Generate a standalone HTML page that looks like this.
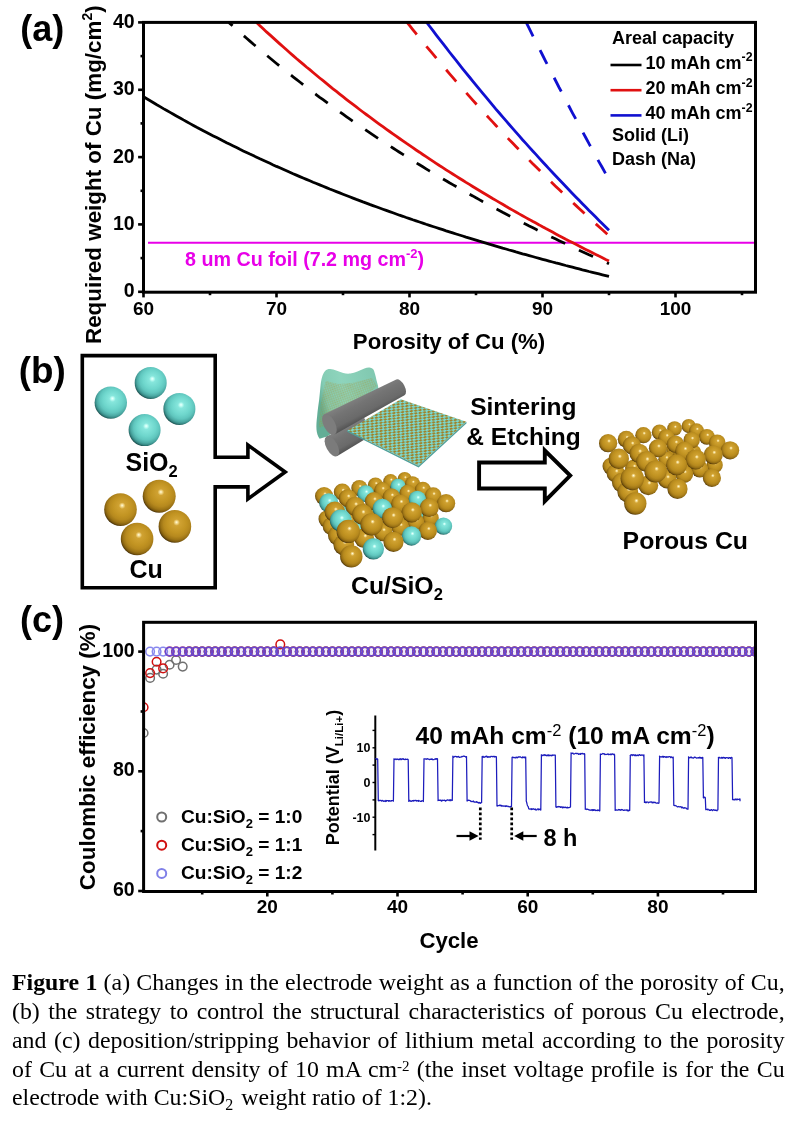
<!DOCTYPE html>
<html><head><meta charset="utf-8"><title>Figure 1</title>
<style>
html,body{margin:0;padding:0;background:#fff;}
body{width:794px;height:1123px;position:relative;overflow:hidden;}
.cap{position:absolute;left:12px;top:968.3px;width:772.6px;font-family:"Liberation Serif","Times New Roman",serif;font-size:23.85px;line-height:28.75px;color:#000;}
.cap .ln{text-align:justify;text-align-last:justify;white-space:nowrap;height:28.75px;}
.cap .ln.last{text-align:left;text-align-last:left;}
.cap sup,.cap sub{font-size:15px;line-height:0;}
.cap sup{vertical-align:6.5px;}
.cap sub{vertical-align:-4.5px;margin-right:2px;font-size:16px;}
</style></head><body>
<svg width="794" height="1123" viewBox="0 0 794 1123" style="position:absolute;left:0;top:0">
<g id="panelA">
<line x1="148" y1="242.7" x2="754" y2="242.7" stroke="#e800e8" stroke-width="2"/>
<path d="M143.5 96.7 L146.8 98.7 L150.2 100.7 L153.5 102.7 L156.8 104.7 L160.1 106.6 L163.4 108.6 L166.8 110.5 L170.1 112.4 L173.4 114.3 L176.8 116.2 L180.1 118.0 L183.4 119.9 L186.7 121.7 L190.1 123.6 L193.4 125.4 L196.7 127.2 L200.0 128.9 L203.3 130.7 L206.7 132.5 L210.0 134.2 L213.3 135.9 L216.7 137.6 L220.0 139.3 L223.3 141.0 L226.6 142.7 L229.9 144.3 L233.3 146.0 L236.6 147.6 L239.9 149.3 L243.2 150.9 L246.6 152.5 L249.9 154.1 L253.2 155.6 L256.6 157.2 L259.9 158.8 L263.2 160.3 L266.5 161.8 L269.9 163.3 L273.2 164.9 L276.5 166.4 L279.8 167.8 L283.1 169.3 L286.5 170.8 L289.8 172.2 L293.1 173.7 L296.4 175.1 L299.8 176.6 L303.1 178.0 L306.4 179.4 L309.8 180.8 L313.1 182.2 L316.4 183.5 L319.7 184.9 L323.1 186.3 L326.4 187.6 L329.7 189.0 L333.0 190.3 L336.4 191.6 L339.7 192.9 L343.0 194.2 L346.3 195.5 L349.6 196.8 L353.0 198.1 L356.3 199.4 L359.6 200.6 L362.9 201.9 L366.3 203.1 L369.6 204.4 L372.9 205.6 L376.2 206.8 L379.6 208.0 L382.9 209.2 L386.2 210.4 L389.6 211.6 L392.9 212.8 L396.2 214.0 L399.5 215.2 L402.9 216.3 L406.2 217.5 L409.5 218.6 L412.8 219.8 L416.1 220.9 L419.5 222.0 L422.8 223.1 L426.1 224.3 L429.4 225.4 L432.8 226.5 L436.1 227.5 L439.4 228.6 L442.8 229.7 L446.1 230.8 L449.4 231.8 L452.7 232.9 L456.1 234.0 L459.4 235.0 L462.7 236.0 L466.0 237.1 L469.4 238.1 L472.7 239.1 L476.0 240.1 L479.3 241.2 L482.6 242.2 L486.0 243.2 L489.3 244.2 L492.6 245.1 L495.9 246.1 L499.3 247.1 L502.6 248.1 L505.9 249.0 L509.2 250.0 L512.6 250.9 L515.9 251.9 L519.2 252.8 L522.5 253.8 L525.9 254.7 L529.2 255.6 L532.5 256.5 L535.9 257.5 L539.2 258.4 L542.5 259.3 L545.8 260.2 L549.1 261.1 L552.5 262.0 L555.8 262.9 L559.1 263.7 L562.5 264.6 L565.8 265.5 L569.1 266.3 L572.4 267.2 L575.8 268.1 L579.1 268.9 L582.4 269.8 L585.7 270.6 L589.0 271.5 L592.4 272.3 L595.7 273.1 L599.0 273.9 L602.4 274.8 L605.7 275.6 L609.0 276.4" fill="none" stroke="#000" stroke-width="2.8"/>
<path d="M228.8 22.4 L229.9 23.4 L233.3 26.4 L236.6 29.4 L239.9 32.4 L243.2 35.3 L246.6 38.2 L249.9 41.1 L253.2 44.0 L256.6 46.8 L259.9 49.6 L263.2 52.5 L266.5 55.2 L269.9 58.0 L273.2 60.8 L276.5 63.5 L279.8 66.2 L283.1 68.9 L286.5 71.6 L289.8 74.2 L293.1 76.8 L296.4 79.4 L299.8 82.0 L303.1 84.6 L306.4 87.2 L309.8 89.7 L313.1 92.3 L316.4 94.8 L319.7 97.3 L323.1 99.7 L326.4 102.2 L329.7 104.6 L333.0 107.0 L336.4 109.5 L339.7 111.8 L343.0 114.2 L346.3 116.6 L349.6 118.9 L353.0 121.3 L356.3 123.6 L359.6 125.9 L362.9 128.1 L366.3 130.4 L369.6 132.7 L372.9 134.9 L376.2 137.1 L379.6 139.3 L382.9 141.5 L386.2 143.7 L389.6 145.9 L392.9 148.0 L396.2 150.2 L399.5 152.3 L402.9 154.4 L406.2 156.5 L409.5 158.6 L412.8 160.7 L416.1 162.8 L419.5 164.8 L422.8 166.8 L426.1 168.9 L429.4 170.9 L432.8 172.9 L436.1 174.9 L439.4 176.8 L442.8 178.8 L446.1 180.7 L449.4 182.7 L452.7 184.6 L456.1 186.5 L459.4 188.4 L462.7 190.3 L466.0 192.2 L469.4 194.1 L472.7 195.9 L476.0 197.8 L479.3 199.6 L482.6 201.5 L486.0 203.3 L489.3 205.1 L492.6 206.9 L495.9 208.7 L499.3 210.4 L502.6 212.2 L505.9 213.9 L509.2 215.7 L512.6 217.4 L515.9 219.2 L519.2 220.9 L522.5 222.6 L525.9 224.3 L529.2 226.0 L532.5 227.6 L535.9 229.3 L539.2 231.0 L542.5 232.6 L545.8 234.2 L549.1 235.9 L552.5 237.5 L555.8 239.1 L559.1 240.7 L562.5 242.3 L565.8 243.9 L569.1 245.5 L572.4 247.0 L575.8 248.6 L579.1 250.2 L582.4 251.7 L585.7 253.2 L589.0 254.8 L592.4 256.3 L595.7 257.8 L599.0 259.3 L602.4 260.8 L605.7 262.3 L609.0 263.8" fill="none" stroke="#000" stroke-width="2.8" stroke-dasharray="15.5 15.2" stroke-dashoffset="10.5"/>
<path d="M256.3 22.4 L256.6 22.6 L259.9 25.7 L263.2 28.8 L266.5 31.9 L269.9 34.9 L273.2 37.9 L276.5 40.9 L279.8 43.9 L283.1 46.8 L286.5 49.8 L289.8 52.7 L293.1 55.6 L296.4 58.5 L299.8 61.3 L303.1 64.1 L306.4 67.0 L309.8 69.7 L313.1 72.5 L316.4 75.3 L319.7 78.0 L323.1 80.7 L326.4 83.4 L329.7 86.1 L333.0 88.8 L336.4 91.4 L339.7 94.1 L343.0 96.7 L346.3 99.3 L349.6 101.8 L353.0 104.4 L356.3 106.9 L359.6 109.5 L362.9 112.0 L366.3 114.5 L369.6 116.9 L372.9 119.4 L376.2 121.8 L379.6 124.3 L382.9 126.7 L386.2 129.1 L389.6 131.5 L392.9 133.8 L396.2 136.2 L399.5 138.5 L402.9 140.8 L406.2 143.2 L409.5 145.4 L412.8 147.7 L416.1 150.0 L419.5 152.2 L422.8 154.5 L426.1 156.7 L429.4 158.9 L432.8 161.1 L436.1 163.3 L439.4 165.5 L442.8 167.6 L446.1 169.8 L449.4 171.9 L452.7 174.0 L456.1 176.1 L459.4 178.2 L462.7 180.3 L466.0 182.4 L469.4 184.4 L472.7 186.5 L476.0 188.5 L479.3 190.5 L482.6 192.5 L486.0 194.5 L489.3 196.5 L492.6 198.5 L495.9 200.4 L499.3 202.4 L502.6 204.3 L505.9 206.3 L509.2 208.2 L512.6 210.1 L515.9 212.0 L519.2 213.9 L522.5 215.7 L525.9 217.6 L529.2 219.4 L532.5 221.3 L535.9 223.1 L539.2 224.9 L542.5 226.8 L545.8 228.6 L549.1 230.3 L552.5 232.1 L555.8 233.9 L559.1 235.7 L562.5 237.4 L565.8 239.2 L569.1 240.9 L572.4 242.6 L575.8 244.3 L579.1 246.0 L582.4 247.7 L585.7 249.4 L589.0 251.1 L592.4 252.8 L595.7 254.4 L599.0 256.1 L602.4 257.7 L605.7 259.4 L609.0 261.0" fill="none" stroke="#e01010" stroke-width="2.8"/>
<path d="M407.1 22.4 L409.5 25.4 L412.8 29.6 L416.1 33.7 L419.5 37.8 L422.8 41.9 L426.1 45.9 L429.4 49.9 L432.8 53.9 L436.1 57.9 L439.4 61.9 L442.8 65.8 L446.1 69.7 L449.4 73.6 L452.7 77.4 L456.1 81.3 L459.4 85.1 L462.7 88.9 L466.0 92.6 L469.4 96.4 L472.7 100.1 L476.0 103.8 L479.3 107.5 L482.6 111.1 L486.0 114.7 L489.3 118.4 L492.6 121.9 L495.9 125.5 L499.3 129.1 L502.6 132.6 L505.9 136.1 L509.2 139.6 L512.6 143.1 L515.9 146.5 L519.2 149.9 L522.5 153.3 L525.9 156.7 L529.2 160.1 L532.5 163.5 L535.9 166.8 L539.2 170.1 L542.5 173.4 L545.8 176.7 L549.1 180.0 L552.5 183.2 L555.8 186.4 L559.1 189.6 L562.5 192.8 L565.8 196.0 L569.1 199.1 L572.4 202.3 L575.8 205.4 L579.1 208.5 L582.4 211.6 L585.7 214.7 L589.0 217.7 L592.4 220.8 L595.7 223.8 L599.0 226.8 L602.4 229.8 L605.7 232.8 L609.0 235.7" fill="none" stroke="#e01010" stroke-width="2.8" stroke-dasharray="15.5 15.2" stroke-dashoffset="0"/>
<path d="M426.7 22.4 L429.4 26.0 L432.8 30.4 L436.1 34.8 L439.4 39.1 L442.8 43.4 L446.1 47.7 L449.4 52.0 L452.7 56.2 L456.1 60.4 L459.4 64.6 L462.7 68.8 L466.0 72.9 L469.4 77.0 L472.7 81.1 L476.0 85.2 L479.3 89.2 L482.6 93.2 L486.0 97.2 L489.3 101.2 L492.6 105.1 L495.9 109.1 L499.3 113.0 L502.6 116.9 L505.9 120.7 L509.2 124.5 L512.6 128.4 L515.9 132.1 L519.2 135.9 L522.5 139.7 L525.9 143.4 L529.2 147.1 L532.5 150.8 L535.9 154.4 L539.2 158.1 L542.5 161.7 L545.8 165.3 L549.1 168.9 L552.5 172.5 L555.8 176.0 L559.1 179.5 L562.5 183.0 L565.8 186.5 L569.1 190.0 L572.4 193.4 L575.8 196.9 L579.1 200.3 L582.4 203.7 L585.7 207.0 L589.0 210.4 L592.4 213.7 L595.7 217.1 L599.0 220.4 L602.4 223.7 L605.7 226.9 L609.0 230.2" fill="none" stroke="#1010d0" stroke-width="2.8"/>
<path d="M526.2 22.4 L529.2 28.4 L532.5 35.1 L535.9 41.8 L539.2 48.4 L542.5 55.0 L545.8 61.6 L549.1 68.1 L552.5 74.6 L555.8 81.0 L559.1 87.5 L562.5 93.8 L565.8 100.2 L569.1 106.5 L572.4 112.8 L575.8 119.0 L579.1 125.2 L582.4 131.4 L585.7 137.5 L589.0 143.7 L592.4 149.7 L595.7 155.8 L599.0 161.8 L602.4 167.8 L605.7 173.7 L609.0 179.6" fill="none" stroke="#1010d0" stroke-width="2.8" stroke-dasharray="15.5 15.5" stroke-dashoffset="0"/>
<rect x="143.5" y="22.4" width="612.0" height="269.8" fill="none" stroke="#000" stroke-width="3"/>
<line x1="138.1" y1="291.8" x2="143.5" y2="291.8" stroke="#000" stroke-width="2.6"/>
<text x="134.7" y="297.4" text-anchor="end" font-size="19.5" font-family="Liberation Sans, Arial, sans-serif" font-weight="bold">0</text>
<line x1="138.1" y1="224.4" x2="143.5" y2="224.4" stroke="#000" stroke-width="2.6"/>
<text x="134.7" y="230.0" text-anchor="end" font-size="19.5" font-family="Liberation Sans, Arial, sans-serif" font-weight="bold">10</text>
<line x1="138.1" y1="157.1" x2="143.5" y2="157.1" stroke="#000" stroke-width="2.6"/>
<text x="134.7" y="162.7" text-anchor="end" font-size="19.5" font-family="Liberation Sans, Arial, sans-serif" font-weight="bold">20</text>
<line x1="138.1" y1="89.8" x2="143.5" y2="89.8" stroke="#000" stroke-width="2.6"/>
<text x="134.7" y="95.3" text-anchor="end" font-size="19.5" font-family="Liberation Sans, Arial, sans-serif" font-weight="bold">30</text>
<line x1="138.1" y1="22.4" x2="143.5" y2="22.4" stroke="#000" stroke-width="2.6"/>
<text x="134.7" y="28.0" text-anchor="end" font-size="19.5" font-family="Liberation Sans, Arial, sans-serif" font-weight="bold">40</text>
<line x1="140.5" y1="258.1" x2="143.5" y2="258.1" stroke="#000" stroke-width="2.6"/>
<line x1="140.5" y1="190.8" x2="143.5" y2="190.8" stroke="#000" stroke-width="2.6"/>
<line x1="140.5" y1="123.4" x2="143.5" y2="123.4" stroke="#000" stroke-width="2.6"/>
<line x1="140.5" y1="56.1" x2="143.5" y2="56.1" stroke="#000" stroke-width="2.6"/>
<line x1="143.5" y1="292.2" x2="143.5" y2="297.4" stroke="#000" stroke-width="2.6"/>
<text x="143.5" y="315" text-anchor="middle" font-size="19" font-family="Liberation Sans, Arial, sans-serif" font-weight="bold">60</text>
<line x1="276.5" y1="292.2" x2="276.5" y2="297.4" stroke="#000" stroke-width="2.6"/>
<text x="276.5" y="315" text-anchor="middle" font-size="19" font-family="Liberation Sans, Arial, sans-serif" font-weight="bold">70</text>
<line x1="409.5" y1="292.2" x2="409.5" y2="297.4" stroke="#000" stroke-width="2.6"/>
<text x="409.5" y="315" text-anchor="middle" font-size="19" font-family="Liberation Sans, Arial, sans-serif" font-weight="bold">80</text>
<line x1="542.5" y1="292.2" x2="542.5" y2="297.4" stroke="#000" stroke-width="2.6"/>
<text x="542.5" y="315" text-anchor="middle" font-size="19" font-family="Liberation Sans, Arial, sans-serif" font-weight="bold">90</text>
<line x1="675.5" y1="292.2" x2="675.5" y2="297.4" stroke="#000" stroke-width="2.6"/>
<text x="675.5" y="315" text-anchor="middle" font-size="19" font-family="Liberation Sans, Arial, sans-serif" font-weight="bold">100</text>
<line x1="210.0" y1="292.2" x2="210.0" y2="295.2" stroke="#000" stroke-width="2.6"/>
<line x1="343.0" y1="292.2" x2="343.0" y2="295.2" stroke="#000" stroke-width="2.6"/>
<line x1="476.0" y1="292.2" x2="476.0" y2="295.2" stroke="#000" stroke-width="2.6"/>
<line x1="609.0" y1="292.2" x2="609.0" y2="295.2" stroke="#000" stroke-width="2.6"/>
<line x1="742.0" y1="292.2" x2="742.0" y2="295.2" stroke="#000" stroke-width="2.6"/>
<text x="449" y="349" text-anchor="middle" font-size="22.2" font-family="Liberation Sans, Arial, sans-serif" font-weight="bold">Porosity of Cu (%)</text>
<text transform="translate(100.5,174.7) rotate(-90)" text-anchor="middle" font-size="22.4" font-family="Liberation Sans, Arial, sans-serif" font-weight="bold">Required weight of Cu (mg/cm<tspan font-size="14" dy="-9">2</tspan><tspan dy="9">)</tspan></text>
<text x="185" y="265.5" font-size="19.7" fill="#e800e8" font-family="Liberation Sans, Arial, sans-serif" font-weight="bold">8 um Cu foil (7.2 mg cm<tspan font-size="13" dy="-8">-2</tspan><tspan dy="8">)</tspan></text>
<text x="612" y="44" font-size="18" font-family="Liberation Sans, Arial, sans-serif" font-weight="bold">Areal capacity</text>
<line x1="610.5" y1="65.0" x2="641.5" y2="65.0" stroke="#000" stroke-width="2.6"/>
<text x="645.5" y="68.6" font-size="18" font-family="Liberation Sans, Arial, sans-serif" font-weight="bold">10 mAh cm<tspan font-size="12.3" dy="-7.3">-2</tspan></text>
<line x1="610.5" y1="90.2" x2="641.5" y2="90.2" stroke="#e01010" stroke-width="2.6"/>
<text x="645.5" y="93.8" font-size="18" font-family="Liberation Sans, Arial, sans-serif" font-weight="bold">20 mAh cm<tspan font-size="12.3" dy="-7.3">-2</tspan></text>
<line x1="610.5" y1="115.4" x2="641.5" y2="115.4" stroke="#1010d0" stroke-width="2.6"/>
<text x="645.5" y="119.0" font-size="18" font-family="Liberation Sans, Arial, sans-serif" font-weight="bold">40 mAh cm<tspan font-size="12.3" dy="-7.3">-2</tspan></text>
<text x="612" y="141" font-size="18" font-family="Liberation Sans, Arial, sans-serif" font-weight="bold">Solid (Li)</text>
<text x="612" y="164.5" font-size="18" font-family="Liberation Sans, Arial, sans-serif" font-weight="bold">Dash (Na)</text>
<text x="20.3" y="41" font-size="36" font-family="Liberation Sans, Arial, sans-serif" font-weight="bold">(a)</text>
</g>
<defs>
<radialGradient id="gGold" cx="0.56" cy="0.43" r="0.59" fx="0.55" fy="0.37"><stop offset="0" stop-color="#fffbe4"/><stop offset="0.06" stop-color="#f6e09a"/><stop offset="0.17" stop-color="#d0a232"/><stop offset="0.5" stop-color="#c29422"/><stop offset="0.68" stop-color="#b6891e"/><stop offset="0.82" stop-color="#9e7516"/><stop offset="0.91" stop-color="#825e0f"/><stop offset="0.97" stop-color="#5c400a"/><stop offset="1" stop-color="#3e2a05"/></radialGradient>
<radialGradient id="gCyan" cx="0.56" cy="0.43" r="0.59" fx="0.55" fy="0.37"><stop offset="0" stop-color="#f0fffc"/><stop offset="0.06" stop-color="#c8fff6"/><stop offset="0.17" stop-color="#86e6dc"/><stop offset="0.5" stop-color="#6ed6cc"/><stop offset="0.68" stop-color="#60c6be"/><stop offset="0.82" stop-color="#4caaa4"/><stop offset="0.91" stop-color="#388a86"/><stop offset="0.97" stop-color="#226260"/><stop offset="1" stop-color="#164644"/></radialGradient>
<linearGradient id="gCyl" x1="0" y1="0" x2="0" y2="1"><stop offset="0" stop-color="#808080"/><stop offset="0.3" stop-color="#747474"/><stop offset="0.75" stop-color="#6a6a6a"/><stop offset="1" stop-color="#525252"/></linearGradient>
<linearGradient id="gLump" x1="0" y1="0.3" x2="1" y2="0"><stop offset="0" stop-color="#62ae96"/><stop offset="0.12" stop-color="#84ccb4"/><stop offset="0.4" stop-color="#8ed4bc"/><stop offset="1" stop-color="#7ec6ae"/></linearGradient><filter id="blr" x="-10%" y="-10%" width="120%" height="120%"><feGaussianBlur stdDeviation="0.7"/></filter>
<pattern id="chk" width="5.4" height="5.4" patternUnits="userSpaceOnUse" patternTransform="matrix(0.82 0.42 -0.80 0.60 0 0)"><rect width="5.4" height="5.4" fill="#7cd8ce"/><rect x="0.05" y="0.05" width="2.6" height="2.6" rx="0.7" fill="#a08026"/><rect x="2.75" y="2.75" width="2.6" height="2.6" rx="0.7" fill="#a08026"/></pattern>
<pattern id="chk2" width="2.4" height="2.4" patternUnits="userSpaceOnUse" patternTransform="rotate(-30)"><rect width="1.2" height="1.2" fill="#a8902e"/><rect x="1.2" y="1.2" width="1.2" height="1.2" fill="#a8902e"/></pattern>
</defs>
<g id="panelB">
<path d="M215.2 457.2 L215.2 355.6 L82.3 355.6 L82.3 587.8 L215.2 587.8 L215.2 486.9 L247.9 486.9 L247.9 499 L285.2 472 L247.9 445 L247.9 457.2 Z" fill="#fff" stroke="#000" stroke-width="3.6" stroke-miterlimit="10"/>
<circle cx="150.7" cy="382.9" r="16.0" fill="url(#gCyan)"/>
<circle cx="110.8" cy="402.6" r="16.2" fill="url(#gCyan)"/>
<circle cx="179.4" cy="408.9" r="16.0" fill="url(#gCyan)"/>
<circle cx="144.6" cy="430.1" r="16.0" fill="url(#gCyan)"/>
<circle cx="159.2" cy="496.2" r="16.5" fill="url(#gGold)"/>
<circle cx="120.5" cy="509.6" r="16.3" fill="url(#gGold)"/>
<circle cx="174.9" cy="526.4" r="16.3" fill="url(#gGold)"/>
<circle cx="137.1" cy="539.0" r="16.3" fill="url(#gGold)"/>
<text x="125.5" y="470.8" font-size="25" font-family="Liberation Sans, Arial, sans-serif" font-weight="bold">SiO<tspan font-size="16.5" dy="6">2</tspan></text>
<text x="129.5" y="577.7" font-size="25" font-family="Liberation Sans, Arial, sans-serif" font-weight="bold">Cu</text>
<text x="18.8" y="383" font-size="36.8" font-family="Liberation Sans, Arial, sans-serif" font-weight="bold">(b)</text>
<path d="M319.6 438.8 C317.8 436 316.7 433 316.5 429.5 C316.2 425 316.6 421 317.1 416.4 C317.6 411 318.4 405 319.1 400.3 C319.7 395 320.1 390 320.6 385.2 C321 382 321.4 379.5 322.1 377.1 C322.8 374.6 323.7 372.6 325.1 371.1 C326.6 369.6 328.3 369 330.2 369.1 C332.3 369.3 334.2 369.9 336.2 370.6 C338.6 371.5 340.8 372.5 343.2 373.1 C345.6 373.7 348 373.8 350.3 373.6 C352.8 373.3 355.1 372.5 357.4 371.6 C359.8 370.6 362 369.4 364.4 368.6 C366.1 368 367.7 367.5 369.4 367.6 C370.8 367.7 372 368.2 373 369.1 C374 370.5 374.5 372.3 375 374.1 C375.6 376.2 376 378.2 376.5 380.2 C377 382 377.5 383.9 378 385.7 L379 392 L340 428 L327 436.5 Z" fill="url(#gLump)"/>
<path d="M319 428 C319.5 410 322 392 326 381 L338 384 L352 383 L372 378 L377 386 L336 422 Z" fill="url(#chk2)" opacity="0.4" filter="url(#blr)"/>
<g transform="translate(331.9,446.3) rotate(-29)"><path d="M0 -11.2 L42 -9.5 L42 9.5 L0 11.2 Z" fill="url(#gCyl)"/><ellipse cx="0" cy="0" rx="5.6" ry="11.2" fill="#7b7b7b"/></g>
<path d="M347.4 430.6 L400.8 399.3 L466.3 421.8 L418.5 465.8 Z" fill="url(#chk)"/>
<path d="M347.4 430.6 L418.5 465.8 L466.3 421.8 L466.6 423.2 L418.6 467.4 L347.2 431.8 Z" fill="#4fa09a"/>
<g transform="translate(329.4,424.4) rotate(-27.5)"><path d="M0 -11.4 L80 -8.9 A4.4 8.9 0 0 1 80 8.9 L0 11.4 Z" fill="url(#gCyl)"/><ellipse cx="0" cy="0" rx="5.8" ry="11.4" fill="#7d7d7d"/></g>
<circle cx="402.2" cy="500.0" r="6.8" fill="url(#gCyan)"/>
<circle cx="389.2" cy="502.6" r="7.0" fill="url(#gGold)"/>
<circle cx="375.2" cy="506.6" r="7.4" fill="url(#gCyan)"/>
<circle cx="360.2" cy="510.0" r="7.7" fill="url(#gGold)"/>
<circle cx="344.2" cy="514.4" r="8.1" fill="url(#gCyan)"/>
<circle cx="327.2" cy="519.0" r="8.7" fill="url(#gGold)"/>
<circle cx="410.1" cy="504.9" r="7.1" fill="url(#gGold)"/>
<circle cx="396.6" cy="508.0" r="7.4" fill="url(#gGold)"/>
<circle cx="382.1" cy="512.2" r="7.8" fill="url(#gGold)"/>
<circle cx="366.5" cy="516.1" r="8.2" fill="url(#gGold)"/>
<circle cx="349.7" cy="521.0" r="8.6" fill="url(#gGold)"/>
<circle cx="331.8" cy="526.1" r="9.2" fill="url(#gGold)"/>
<circle cx="420.4" cy="511.5" r="7.6" fill="url(#gCyan)"/>
<circle cx="406.2" cy="515.1" r="7.9" fill="url(#gGold)"/>
<circle cx="391.2" cy="519.6" r="8.4" fill="url(#gCyan)"/>
<circle cx="374.8" cy="524.0" r="8.8" fill="url(#gGold)"/>
<circle cx="357.0" cy="529.6" r="9.2" fill="url(#gCyan)"/>
<circle cx="337.8" cy="535.5" r="9.8" fill="url(#gGold)"/>
<circle cx="430.7" cy="518.0" r="8.1" fill="url(#gGold)"/>
<circle cx="415.9" cy="522.1" r="8.4" fill="url(#gGold)"/>
<circle cx="400.2" cy="526.9" r="9.0" fill="url(#gGold)"/>
<circle cx="383.1" cy="532.0" r="9.3" fill="url(#gGold)"/>
<circle cx="364.3" cy="538.2" r="9.9" fill="url(#gGold)"/>
<circle cx="343.8" cy="544.8" r="10.4" fill="url(#gGold)"/>
<circle cx="443.5" cy="526.1" r="8.7" fill="url(#gCyan)"/>
<circle cx="427.9" cy="530.8" r="9.1" fill="url(#gGold)"/>
<circle cx="411.5" cy="536.0" r="9.7" fill="url(#gCyan)"/>
<circle cx="393.5" cy="541.8" r="10.1" fill="url(#gGold)"/>
<circle cx="373.4" cy="548.9" r="10.6" fill="url(#gCyan)"/>
<circle cx="351.3" cy="556.4" r="11.2" fill="url(#gGold)"/>
<circle cx="404.7" cy="479.0" r="7.1" fill="url(#gGold)"/>
<circle cx="390.6" cy="481.4" r="7.3" fill="url(#gGold)"/>
<circle cx="375.5" cy="485.1" r="7.7" fill="url(#gGold)"/>
<circle cx="359.4" cy="488.1" r="8.1" fill="url(#gGold)"/>
<circle cx="342.3" cy="492.1" r="8.5" fill="url(#gGold)"/>
<circle cx="324.1" cy="496.1" r="9.1" fill="url(#gGold)"/>
<circle cx="412.6" cy="483.6" r="7.4" fill="url(#gGold)"/>
<circle cx="398.0" cy="486.4" r="7.7" fill="url(#gCyan)"/>
<circle cx="382.4" cy="490.2" r="8.1" fill="url(#gGold)"/>
<circle cx="365.7" cy="493.7" r="8.5" fill="url(#gCyan)"/>
<circle cx="347.8" cy="498.2" r="9.0" fill="url(#gGold)"/>
<circle cx="328.7" cy="502.8" r="9.6" fill="url(#gCyan)"/>
<circle cx="422.9" cy="489.7" r="7.9" fill="url(#gGold)"/>
<circle cx="407.7" cy="493.0" r="8.2" fill="url(#gGold)"/>
<circle cx="391.5" cy="497.0" r="8.7" fill="url(#gGold)"/>
<circle cx="374.0" cy="501.1" r="9.1" fill="url(#gGold)"/>
<circle cx="355.1" cy="506.3" r="9.6" fill="url(#gGold)"/>
<circle cx="334.8" cy="511.7" r="10.2" fill="url(#gGold)"/>
<circle cx="433.2" cy="495.7" r="8.4" fill="url(#gGold)"/>
<circle cx="417.3" cy="499.5" r="8.8" fill="url(#gCyan)"/>
<circle cx="400.5" cy="503.8" r="9.3" fill="url(#gGold)"/>
<circle cx="382.3" cy="508.5" r="9.7" fill="url(#gCyan)"/>
<circle cx="362.4" cy="514.4" r="10.3" fill="url(#gGold)"/>
<circle cx="340.8" cy="520.5" r="10.9" fill="url(#gCyan)"/>
<circle cx="446.1" cy="503.2" r="9.1" fill="url(#gGold)"/>
<circle cx="429.3" cy="507.6" r="9.5" fill="url(#gGold)"/>
<circle cx="411.8" cy="512.3" r="10.1" fill="url(#gGold)"/>
<circle cx="392.6" cy="517.7" r="10.5" fill="url(#gGold)"/>
<circle cx="371.5" cy="524.4" r="11.1" fill="url(#gGold)"/>
<circle cx="348.3" cy="531.4" r="11.7" fill="url(#gGold)"/>
<text x="351" y="593.8" font-size="24.8" font-family="Liberation Sans, Arial, sans-serif" font-weight="bold">Cu/SiO<tspan font-size="16.5" dy="6">2</tspan></text>
<text x="523.3" y="414.7" text-anchor="middle" font-size="24.5" font-family="Liberation Sans, Arial, sans-serif" font-weight="bold">Sintering</text>
<text x="523.5" y="444.7" text-anchor="middle" font-size="24.5" font-family="Liberation Sans, Arial, sans-serif" font-weight="bold">&amp; Etching</text>
<path d="M479.1 462.5 L544.8 462.5 L544.8 450.5 L570.2 475.6 L544.8 501.2 L544.8 488.5 L479.1 488.5 Z" fill="#fff" stroke="#000" stroke-width="3.9" stroke-miterlimit="10"/>
<circle cx="673.2" cy="449.7" r="7.0" fill="url(#gGold)"/>
<circle cx="644.2" cy="457.1" r="7.7" fill="url(#gGold)"/>
<circle cx="611.2" cy="466.1" r="8.7" fill="url(#gGold)"/>
<circle cx="694.1" cy="452.0" r="7.1" fill="url(#gGold)"/>
<circle cx="680.6" cy="455.1" r="7.4" fill="url(#gGold)"/>
<circle cx="666.1" cy="459.3" r="7.8" fill="url(#gGold)"/>
<circle cx="650.5" cy="463.2" r="8.2" fill="url(#gGold)"/>
<circle cx="633.7" cy="468.1" r="8.6" fill="url(#gGold)"/>
<circle cx="615.8" cy="473.2" r="9.2" fill="url(#gGold)"/>
<circle cx="690.2" cy="462.2" r="7.9" fill="url(#gGold)"/>
<circle cx="658.8" cy="471.1" r="8.8" fill="url(#gGold)"/>
<circle cx="621.8" cy="482.6" r="9.8" fill="url(#gGold)"/>
<circle cx="714.7" cy="465.1" r="8.1" fill="url(#gGold)"/>
<circle cx="699.9" cy="469.2" r="8.4" fill="url(#gGold)"/>
<circle cx="684.2" cy="474.0" r="9.0" fill="url(#gGold)"/>
<circle cx="667.1" cy="479.1" r="9.3" fill="url(#gGold)"/>
<circle cx="648.3" cy="485.3" r="9.9" fill="url(#gGold)"/>
<circle cx="627.8" cy="491.9" r="10.4" fill="url(#gGold)"/>
<circle cx="711.9" cy="477.9" r="9.1" fill="url(#gGold)"/>
<circle cx="677.5" cy="488.9" r="10.1" fill="url(#gGold)"/>
<circle cx="635.3" cy="503.5" r="11.2" fill="url(#gGold)"/>
<circle cx="688.7" cy="426.1" r="7.1" fill="url(#gGold)"/>
<circle cx="674.6" cy="428.5" r="7.3" fill="url(#gGold)"/>
<circle cx="659.5" cy="432.2" r="7.7" fill="url(#gGold)"/>
<circle cx="643.4" cy="435.2" r="8.1" fill="url(#gGold)"/>
<circle cx="626.3" cy="439.2" r="8.5" fill="url(#gGold)"/>
<circle cx="608.1" cy="443.2" r="9.1" fill="url(#gGold)"/>
<circle cx="696.6" cy="430.7" r="7.4" fill="url(#gGold)"/>
<circle cx="666.4" cy="437.3" r="8.1" fill="url(#gGold)"/>
<circle cx="631.8" cy="445.3" r="9.0" fill="url(#gGold)"/>
<circle cx="706.9" cy="436.8" r="7.9" fill="url(#gGold)"/>
<circle cx="691.7" cy="440.1" r="8.2" fill="url(#gGold)"/>
<circle cx="675.5" cy="444.1" r="8.7" fill="url(#gGold)"/>
<circle cx="658.0" cy="448.2" r="9.1" fill="url(#gGold)"/>
<circle cx="639.1" cy="453.4" r="9.6" fill="url(#gGold)"/>
<circle cx="618.8" cy="458.8" r="10.2" fill="url(#gGold)"/>
<circle cx="717.2" cy="442.8" r="8.4" fill="url(#gGold)"/>
<circle cx="684.5" cy="450.9" r="9.3" fill="url(#gGold)"/>
<circle cx="646.4" cy="461.5" r="10.3" fill="url(#gGold)"/>
<circle cx="730.1" cy="450.3" r="9.1" fill="url(#gGold)"/>
<circle cx="713.3" cy="454.7" r="9.5" fill="url(#gGold)"/>
<circle cx="695.8" cy="459.4" r="10.1" fill="url(#gGold)"/>
<circle cx="676.6" cy="464.8" r="10.5" fill="url(#gGold)"/>
<circle cx="655.5" cy="471.5" r="11.1" fill="url(#gGold)"/>
<circle cx="632.3" cy="478.5" r="11.7" fill="url(#gGold)"/>
<text x="622.6" y="549.2" font-size="24.8" font-family="Liberation Sans, Arial, sans-serif" font-weight="bold">Porous Cu</text>
</g>
<g id="panelC">
<clipPath id="clipC"><rect x="143.6" y="622.3" width="611.9" height="269.2"/></clipPath>
<g clip-path="url(#clipC)">
<circle cx="189.2" cy="651.6" r="4.3" fill="#707070" fill-opacity="0" stroke="#707070" stroke-width="1.5"/>
<circle cx="195.7" cy="651.6" r="4.3" fill="#707070" fill-opacity="0" stroke="#707070" stroke-width="1.5"/>
<circle cx="202.2" cy="651.6" r="4.3" fill="#707070" fill-opacity="0" stroke="#707070" stroke-width="1.5"/>
<circle cx="208.7" cy="651.6" r="4.3" fill="#707070" fill-opacity="0" stroke="#707070" stroke-width="1.5"/>
<circle cx="215.2" cy="651.6" r="4.3" fill="#707070" fill-opacity="0" stroke="#707070" stroke-width="1.5"/>
<circle cx="221.7" cy="651.6" r="4.3" fill="#707070" fill-opacity="0" stroke="#707070" stroke-width="1.5"/>
<circle cx="228.2" cy="651.6" r="4.3" fill="#707070" fill-opacity="0" stroke="#707070" stroke-width="1.5"/>
<circle cx="234.7" cy="651.6" r="4.3" fill="#707070" fill-opacity="0" stroke="#707070" stroke-width="1.5"/>
<circle cx="241.2" cy="651.6" r="4.3" fill="#707070" fill-opacity="0" stroke="#707070" stroke-width="1.5"/>
<circle cx="247.8" cy="651.6" r="4.3" fill="#707070" fill-opacity="0" stroke="#707070" stroke-width="1.5"/>
<circle cx="254.3" cy="651.6" r="4.3" fill="#707070" fill-opacity="0" stroke="#707070" stroke-width="1.5"/>
<circle cx="260.8" cy="651.6" r="4.3" fill="#707070" fill-opacity="0" stroke="#707070" stroke-width="1.5"/>
<circle cx="267.3" cy="651.6" r="4.3" fill="#707070" fill-opacity="0" stroke="#707070" stroke-width="1.5"/>
<circle cx="273.8" cy="651.6" r="4.3" fill="#707070" fill-opacity="0" stroke="#707070" stroke-width="1.5"/>
<circle cx="280.3" cy="651.6" r="4.3" fill="#707070" fill-opacity="0" stroke="#707070" stroke-width="1.5"/>
<circle cx="286.8" cy="651.6" r="4.3" fill="#707070" fill-opacity="0" stroke="#707070" stroke-width="1.5"/>
<circle cx="293.3" cy="651.6" r="4.3" fill="#707070" fill-opacity="0" stroke="#707070" stroke-width="1.5"/>
<circle cx="299.8" cy="651.6" r="4.3" fill="#707070" fill-opacity="0" stroke="#707070" stroke-width="1.5"/>
<circle cx="306.3" cy="651.6" r="4.3" fill="#707070" fill-opacity="0" stroke="#707070" stroke-width="1.5"/>
<circle cx="312.8" cy="651.6" r="4.3" fill="#707070" fill-opacity="0" stroke="#707070" stroke-width="1.5"/>
<circle cx="319.4" cy="651.6" r="4.3" fill="#707070" fill-opacity="0" stroke="#707070" stroke-width="1.5"/>
<circle cx="325.9" cy="651.6" r="4.3" fill="#707070" fill-opacity="0" stroke="#707070" stroke-width="1.5"/>
<circle cx="332.4" cy="651.6" r="4.3" fill="#707070" fill-opacity="0" stroke="#707070" stroke-width="1.5"/>
<circle cx="338.9" cy="651.6" r="4.3" fill="#707070" fill-opacity="0" stroke="#707070" stroke-width="1.5"/>
<circle cx="345.4" cy="651.6" r="4.3" fill="#707070" fill-opacity="0" stroke="#707070" stroke-width="1.5"/>
<circle cx="351.9" cy="651.6" r="4.3" fill="#707070" fill-opacity="0" stroke="#707070" stroke-width="1.5"/>
<circle cx="358.4" cy="651.6" r="4.3" fill="#707070" fill-opacity="0" stroke="#707070" stroke-width="1.5"/>
<circle cx="364.9" cy="651.6" r="4.3" fill="#707070" fill-opacity="0" stroke="#707070" stroke-width="1.5"/>
<circle cx="371.4" cy="651.6" r="4.3" fill="#707070" fill-opacity="0" stroke="#707070" stroke-width="1.5"/>
<circle cx="377.9" cy="651.6" r="4.3" fill="#707070" fill-opacity="0" stroke="#707070" stroke-width="1.5"/>
<circle cx="384.5" cy="651.6" r="4.3" fill="#707070" fill-opacity="0" stroke="#707070" stroke-width="1.5"/>
<circle cx="391.0" cy="651.6" r="4.3" fill="#707070" fill-opacity="0" stroke="#707070" stroke-width="1.5"/>
<circle cx="397.5" cy="651.6" r="4.3" fill="#707070" fill-opacity="0" stroke="#707070" stroke-width="1.5"/>
<circle cx="404.0" cy="651.6" r="4.3" fill="#707070" fill-opacity="0" stroke="#707070" stroke-width="1.5"/>
<circle cx="410.5" cy="651.6" r="4.3" fill="#707070" fill-opacity="0" stroke="#707070" stroke-width="1.5"/>
<circle cx="417.0" cy="651.6" r="4.3" fill="#707070" fill-opacity="0" stroke="#707070" stroke-width="1.5"/>
<circle cx="423.5" cy="651.6" r="4.3" fill="#707070" fill-opacity="0" stroke="#707070" stroke-width="1.5"/>
<circle cx="430.0" cy="651.6" r="4.3" fill="#707070" fill-opacity="0" stroke="#707070" stroke-width="1.5"/>
<circle cx="436.5" cy="651.6" r="4.3" fill="#707070" fill-opacity="0" stroke="#707070" stroke-width="1.5"/>
<circle cx="443.0" cy="651.6" r="4.3" fill="#707070" fill-opacity="0" stroke="#707070" stroke-width="1.5"/>
<circle cx="449.5" cy="651.6" r="4.3" fill="#707070" fill-opacity="0" stroke="#707070" stroke-width="1.5"/>
<circle cx="456.1" cy="651.6" r="4.3" fill="#707070" fill-opacity="0" stroke="#707070" stroke-width="1.5"/>
<circle cx="462.6" cy="651.6" r="4.3" fill="#707070" fill-opacity="0" stroke="#707070" stroke-width="1.5"/>
<circle cx="469.1" cy="651.6" r="4.3" fill="#707070" fill-opacity="0" stroke="#707070" stroke-width="1.5"/>
<circle cx="475.6" cy="651.6" r="4.3" fill="#707070" fill-opacity="0" stroke="#707070" stroke-width="1.5"/>
<circle cx="482.1" cy="651.6" r="4.3" fill="#707070" fill-opacity="0" stroke="#707070" stroke-width="1.5"/>
<circle cx="488.6" cy="651.6" r="4.3" fill="#707070" fill-opacity="0" stroke="#707070" stroke-width="1.5"/>
<circle cx="495.1" cy="651.6" r="4.3" fill="#707070" fill-opacity="0" stroke="#707070" stroke-width="1.5"/>
<circle cx="501.6" cy="651.6" r="4.3" fill="#707070" fill-opacity="0" stroke="#707070" stroke-width="1.5"/>
<circle cx="508.1" cy="651.6" r="4.3" fill="#707070" fill-opacity="0" stroke="#707070" stroke-width="1.5"/>
<circle cx="514.6" cy="651.6" r="4.3" fill="#707070" fill-opacity="0" stroke="#707070" stroke-width="1.5"/>
<circle cx="521.2" cy="651.6" r="4.3" fill="#707070" fill-opacity="0" stroke="#707070" stroke-width="1.5"/>
<circle cx="527.7" cy="651.6" r="4.3" fill="#707070" fill-opacity="0" stroke="#707070" stroke-width="1.5"/>
<circle cx="534.2" cy="651.6" r="4.3" fill="#707070" fill-opacity="0" stroke="#707070" stroke-width="1.5"/>
<circle cx="540.7" cy="651.6" r="4.3" fill="#707070" fill-opacity="0" stroke="#707070" stroke-width="1.5"/>
<circle cx="547.2" cy="651.6" r="4.3" fill="#707070" fill-opacity="0" stroke="#707070" stroke-width="1.5"/>
<circle cx="553.7" cy="651.6" r="4.3" fill="#707070" fill-opacity="0" stroke="#707070" stroke-width="1.5"/>
<circle cx="560.2" cy="651.6" r="4.3" fill="#707070" fill-opacity="0" stroke="#707070" stroke-width="1.5"/>
<circle cx="566.7" cy="651.6" r="4.3" fill="#707070" fill-opacity="0" stroke="#707070" stroke-width="1.5"/>
<circle cx="573.2" cy="651.6" r="4.3" fill="#707070" fill-opacity="0" stroke="#707070" stroke-width="1.5"/>
<circle cx="579.7" cy="651.6" r="4.3" fill="#707070" fill-opacity="0" stroke="#707070" stroke-width="1.5"/>
<circle cx="586.3" cy="651.6" r="4.3" fill="#707070" fill-opacity="0" stroke="#707070" stroke-width="1.5"/>
<circle cx="592.8" cy="651.6" r="4.3" fill="#707070" fill-opacity="0" stroke="#707070" stroke-width="1.5"/>
<circle cx="599.3" cy="651.6" r="4.3" fill="#707070" fill-opacity="0" stroke="#707070" stroke-width="1.5"/>
<circle cx="605.8" cy="651.6" r="4.3" fill="#707070" fill-opacity="0" stroke="#707070" stroke-width="1.5"/>
<circle cx="612.3" cy="651.6" r="4.3" fill="#707070" fill-opacity="0" stroke="#707070" stroke-width="1.5"/>
<circle cx="618.8" cy="651.6" r="4.3" fill="#707070" fill-opacity="0" stroke="#707070" stroke-width="1.5"/>
<circle cx="625.3" cy="651.6" r="4.3" fill="#707070" fill-opacity="0" stroke="#707070" stroke-width="1.5"/>
<circle cx="631.8" cy="651.6" r="4.3" fill="#707070" fill-opacity="0" stroke="#707070" stroke-width="1.5"/>
<circle cx="638.3" cy="651.6" r="4.3" fill="#707070" fill-opacity="0" stroke="#707070" stroke-width="1.5"/>
<circle cx="644.8" cy="651.6" r="4.3" fill="#707070" fill-opacity="0" stroke="#707070" stroke-width="1.5"/>
<circle cx="651.3" cy="651.6" r="4.3" fill="#707070" fill-opacity="0" stroke="#707070" stroke-width="1.5"/>
<circle cx="657.9" cy="651.6" r="4.3" fill="#707070" fill-opacity="0" stroke="#707070" stroke-width="1.5"/>
<circle cx="664.4" cy="651.6" r="4.3" fill="#707070" fill-opacity="0" stroke="#707070" stroke-width="1.5"/>
<circle cx="670.9" cy="651.6" r="4.3" fill="#707070" fill-opacity="0" stroke="#707070" stroke-width="1.5"/>
<circle cx="677.4" cy="651.6" r="4.3" fill="#707070" fill-opacity="0" stroke="#707070" stroke-width="1.5"/>
<circle cx="683.9" cy="651.6" r="4.3" fill="#707070" fill-opacity="0" stroke="#707070" stroke-width="1.5"/>
<circle cx="690.4" cy="651.6" r="4.3" fill="#707070" fill-opacity="0" stroke="#707070" stroke-width="1.5"/>
<circle cx="696.9" cy="651.6" r="4.3" fill="#707070" fill-opacity="0" stroke="#707070" stroke-width="1.5"/>
<circle cx="703.4" cy="651.6" r="4.3" fill="#707070" fill-opacity="0" stroke="#707070" stroke-width="1.5"/>
<circle cx="709.9" cy="651.6" r="4.3" fill="#707070" fill-opacity="0" stroke="#707070" stroke-width="1.5"/>
<circle cx="716.4" cy="651.6" r="4.3" fill="#707070" fill-opacity="0" stroke="#707070" stroke-width="1.5"/>
<circle cx="723.0" cy="651.6" r="4.3" fill="#707070" fill-opacity="0" stroke="#707070" stroke-width="1.5"/>
<circle cx="729.5" cy="651.6" r="4.3" fill="#707070" fill-opacity="0" stroke="#707070" stroke-width="1.5"/>
<circle cx="736.0" cy="651.6" r="4.3" fill="#707070" fill-opacity="0" stroke="#707070" stroke-width="1.5"/>
<circle cx="742.5" cy="651.6" r="4.3" fill="#707070" fill-opacity="0" stroke="#707070" stroke-width="1.5"/>
<circle cx="749.0" cy="651.6" r="4.3" fill="#707070" fill-opacity="0" stroke="#707070" stroke-width="1.5"/>
<circle cx="755.5" cy="651.6" r="4.3" fill="#707070" fill-opacity="0" stroke="#707070" stroke-width="1.5"/>
<circle cx="143.6" cy="733.0" r="4.3" fill="#707070" fill-opacity="0" stroke="#707070" stroke-width="1.5"/>
<circle cx="150.1" cy="677.9" r="4.3" fill="#707070" fill-opacity="0" stroke="#707070" stroke-width="1.5"/>
<circle cx="156.6" cy="669.6" r="4.3" fill="#707070" fill-opacity="0" stroke="#707070" stroke-width="1.5"/>
<circle cx="163.1" cy="673.7" r="4.3" fill="#707070" fill-opacity="0" stroke="#707070" stroke-width="1.5"/>
<circle cx="169.6" cy="664.8" r="4.3" fill="#707070" fill-opacity="0" stroke="#707070" stroke-width="1.5"/>
<circle cx="176.1" cy="660.0" r="4.3" fill="#707070" fill-opacity="0" stroke="#707070" stroke-width="1.5"/>
<circle cx="182.7" cy="666.6" r="4.3" fill="#707070" fill-opacity="0" stroke="#707070" stroke-width="1.5"/>
<circle cx="169.6" cy="651.6" r="4.3" fill="#d01010" fill-opacity="0" stroke="#d01010" stroke-width="1.5"/>
<circle cx="176.1" cy="651.6" r="4.3" fill="#d01010" fill-opacity="0" stroke="#d01010" stroke-width="1.5"/>
<circle cx="182.7" cy="651.6" r="4.3" fill="#d01010" fill-opacity="0" stroke="#d01010" stroke-width="1.5"/>
<circle cx="189.2" cy="651.6" r="4.3" fill="#d01010" fill-opacity="0" stroke="#d01010" stroke-width="1.5"/>
<circle cx="195.7" cy="651.6" r="4.3" fill="#d01010" fill-opacity="0" stroke="#d01010" stroke-width="1.5"/>
<circle cx="202.2" cy="651.6" r="4.3" fill="#d01010" fill-opacity="0" stroke="#d01010" stroke-width="1.5"/>
<circle cx="208.7" cy="651.6" r="4.3" fill="#d01010" fill-opacity="0" stroke="#d01010" stroke-width="1.5"/>
<circle cx="215.2" cy="651.6" r="4.3" fill="#d01010" fill-opacity="0" stroke="#d01010" stroke-width="1.5"/>
<circle cx="221.7" cy="651.6" r="4.3" fill="#d01010" fill-opacity="0" stroke="#d01010" stroke-width="1.5"/>
<circle cx="228.2" cy="651.6" r="4.3" fill="#d01010" fill-opacity="0" stroke="#d01010" stroke-width="1.5"/>
<circle cx="234.7" cy="651.6" r="4.3" fill="#d01010" fill-opacity="0" stroke="#d01010" stroke-width="1.5"/>
<circle cx="241.2" cy="651.6" r="4.3" fill="#d01010" fill-opacity="0" stroke="#d01010" stroke-width="1.5"/>
<circle cx="247.8" cy="651.6" r="4.3" fill="#d01010" fill-opacity="0" stroke="#d01010" stroke-width="1.5"/>
<circle cx="254.3" cy="651.6" r="4.3" fill="#d01010" fill-opacity="0" stroke="#d01010" stroke-width="1.5"/>
<circle cx="260.8" cy="651.6" r="4.3" fill="#d01010" fill-opacity="0" stroke="#d01010" stroke-width="1.5"/>
<circle cx="267.3" cy="651.6" r="4.3" fill="#d01010" fill-opacity="0" stroke="#d01010" stroke-width="1.5"/>
<circle cx="273.8" cy="651.6" r="4.3" fill="#d01010" fill-opacity="0" stroke="#d01010" stroke-width="1.5"/>
<circle cx="286.8" cy="651.6" r="4.3" fill="#d01010" fill-opacity="0" stroke="#d01010" stroke-width="1.5"/>
<circle cx="293.3" cy="651.6" r="4.3" fill="#d01010" fill-opacity="0" stroke="#d01010" stroke-width="1.5"/>
<circle cx="299.8" cy="651.6" r="4.3" fill="#d01010" fill-opacity="0" stroke="#d01010" stroke-width="1.5"/>
<circle cx="306.3" cy="651.6" r="4.3" fill="#d01010" fill-opacity="0" stroke="#d01010" stroke-width="1.5"/>
<circle cx="312.8" cy="651.6" r="4.3" fill="#d01010" fill-opacity="0" stroke="#d01010" stroke-width="1.5"/>
<circle cx="319.4" cy="651.6" r="4.3" fill="#d01010" fill-opacity="0" stroke="#d01010" stroke-width="1.5"/>
<circle cx="325.9" cy="651.6" r="4.3" fill="#d01010" fill-opacity="0" stroke="#d01010" stroke-width="1.5"/>
<circle cx="332.4" cy="651.6" r="4.3" fill="#d01010" fill-opacity="0" stroke="#d01010" stroke-width="1.5"/>
<circle cx="338.9" cy="651.6" r="4.3" fill="#d01010" fill-opacity="0" stroke="#d01010" stroke-width="1.5"/>
<circle cx="345.4" cy="651.6" r="4.3" fill="#d01010" fill-opacity="0" stroke="#d01010" stroke-width="1.5"/>
<circle cx="351.9" cy="651.6" r="4.3" fill="#d01010" fill-opacity="0" stroke="#d01010" stroke-width="1.5"/>
<circle cx="358.4" cy="651.6" r="4.3" fill="#d01010" fill-opacity="0" stroke="#d01010" stroke-width="1.5"/>
<circle cx="364.9" cy="651.6" r="4.3" fill="#d01010" fill-opacity="0" stroke="#d01010" stroke-width="1.5"/>
<circle cx="371.4" cy="651.6" r="4.3" fill="#d01010" fill-opacity="0" stroke="#d01010" stroke-width="1.5"/>
<circle cx="377.9" cy="651.6" r="4.3" fill="#d01010" fill-opacity="0" stroke="#d01010" stroke-width="1.5"/>
<circle cx="384.5" cy="651.6" r="4.3" fill="#d01010" fill-opacity="0" stroke="#d01010" stroke-width="1.5"/>
<circle cx="391.0" cy="651.6" r="4.3" fill="#d01010" fill-opacity="0" stroke="#d01010" stroke-width="1.5"/>
<circle cx="397.5" cy="651.6" r="4.3" fill="#d01010" fill-opacity="0" stroke="#d01010" stroke-width="1.5"/>
<circle cx="404.0" cy="651.6" r="4.3" fill="#d01010" fill-opacity="0" stroke="#d01010" stroke-width="1.5"/>
<circle cx="410.5" cy="651.6" r="4.3" fill="#d01010" fill-opacity="0" stroke="#d01010" stroke-width="1.5"/>
<circle cx="417.0" cy="651.6" r="4.3" fill="#d01010" fill-opacity="0" stroke="#d01010" stroke-width="1.5"/>
<circle cx="423.5" cy="651.6" r="4.3" fill="#d01010" fill-opacity="0" stroke="#d01010" stroke-width="1.5"/>
<circle cx="430.0" cy="651.6" r="4.3" fill="#d01010" fill-opacity="0" stroke="#d01010" stroke-width="1.5"/>
<circle cx="436.5" cy="651.6" r="4.3" fill="#d01010" fill-opacity="0" stroke="#d01010" stroke-width="1.5"/>
<circle cx="443.0" cy="651.6" r="4.3" fill="#d01010" fill-opacity="0" stroke="#d01010" stroke-width="1.5"/>
<circle cx="449.5" cy="651.6" r="4.3" fill="#d01010" fill-opacity="0" stroke="#d01010" stroke-width="1.5"/>
<circle cx="456.1" cy="651.6" r="4.3" fill="#d01010" fill-opacity="0" stroke="#d01010" stroke-width="1.5"/>
<circle cx="462.6" cy="651.6" r="4.3" fill="#d01010" fill-opacity="0" stroke="#d01010" stroke-width="1.5"/>
<circle cx="469.1" cy="651.6" r="4.3" fill="#d01010" fill-opacity="0" stroke="#d01010" stroke-width="1.5"/>
<circle cx="475.6" cy="651.6" r="4.3" fill="#d01010" fill-opacity="0" stroke="#d01010" stroke-width="1.5"/>
<circle cx="482.1" cy="651.6" r="4.3" fill="#d01010" fill-opacity="0" stroke="#d01010" stroke-width="1.5"/>
<circle cx="488.6" cy="651.6" r="4.3" fill="#d01010" fill-opacity="0" stroke="#d01010" stroke-width="1.5"/>
<circle cx="495.1" cy="651.6" r="4.3" fill="#d01010" fill-opacity="0" stroke="#d01010" stroke-width="1.5"/>
<circle cx="501.6" cy="651.6" r="4.3" fill="#d01010" fill-opacity="0" stroke="#d01010" stroke-width="1.5"/>
<circle cx="508.1" cy="651.6" r="4.3" fill="#d01010" fill-opacity="0" stroke="#d01010" stroke-width="1.5"/>
<circle cx="514.6" cy="651.6" r="4.3" fill="#d01010" fill-opacity="0" stroke="#d01010" stroke-width="1.5"/>
<circle cx="521.2" cy="651.6" r="4.3" fill="#d01010" fill-opacity="0" stroke="#d01010" stroke-width="1.5"/>
<circle cx="527.7" cy="651.6" r="4.3" fill="#d01010" fill-opacity="0" stroke="#d01010" stroke-width="1.5"/>
<circle cx="534.2" cy="651.6" r="4.3" fill="#d01010" fill-opacity="0" stroke="#d01010" stroke-width="1.5"/>
<circle cx="540.7" cy="651.6" r="4.3" fill="#d01010" fill-opacity="0" stroke="#d01010" stroke-width="1.5"/>
<circle cx="547.2" cy="651.6" r="4.3" fill="#d01010" fill-opacity="0" stroke="#d01010" stroke-width="1.5"/>
<circle cx="553.7" cy="651.6" r="4.3" fill="#d01010" fill-opacity="0" stroke="#d01010" stroke-width="1.5"/>
<circle cx="560.2" cy="651.6" r="4.3" fill="#d01010" fill-opacity="0" stroke="#d01010" stroke-width="1.5"/>
<circle cx="566.7" cy="651.6" r="4.3" fill="#d01010" fill-opacity="0" stroke="#d01010" stroke-width="1.5"/>
<circle cx="573.2" cy="651.6" r="4.3" fill="#d01010" fill-opacity="0" stroke="#d01010" stroke-width="1.5"/>
<circle cx="579.7" cy="651.6" r="4.3" fill="#d01010" fill-opacity="0" stroke="#d01010" stroke-width="1.5"/>
<circle cx="586.3" cy="651.6" r="4.3" fill="#d01010" fill-opacity="0" stroke="#d01010" stroke-width="1.5"/>
<circle cx="592.8" cy="651.6" r="4.3" fill="#d01010" fill-opacity="0" stroke="#d01010" stroke-width="1.5"/>
<circle cx="599.3" cy="651.6" r="4.3" fill="#d01010" fill-opacity="0" stroke="#d01010" stroke-width="1.5"/>
<circle cx="605.8" cy="651.6" r="4.3" fill="#d01010" fill-opacity="0" stroke="#d01010" stroke-width="1.5"/>
<circle cx="612.3" cy="651.6" r="4.3" fill="#d01010" fill-opacity="0" stroke="#d01010" stroke-width="1.5"/>
<circle cx="618.8" cy="651.6" r="4.3" fill="#d01010" fill-opacity="0" stroke="#d01010" stroke-width="1.5"/>
<circle cx="625.3" cy="651.6" r="4.3" fill="#d01010" fill-opacity="0" stroke="#d01010" stroke-width="1.5"/>
<circle cx="631.8" cy="651.6" r="4.3" fill="#d01010" fill-opacity="0" stroke="#d01010" stroke-width="1.5"/>
<circle cx="638.3" cy="651.6" r="4.3" fill="#d01010" fill-opacity="0" stroke="#d01010" stroke-width="1.5"/>
<circle cx="644.8" cy="651.6" r="4.3" fill="#d01010" fill-opacity="0" stroke="#d01010" stroke-width="1.5"/>
<circle cx="651.3" cy="651.6" r="4.3" fill="#d01010" fill-opacity="0" stroke="#d01010" stroke-width="1.5"/>
<circle cx="657.9" cy="651.6" r="4.3" fill="#d01010" fill-opacity="0" stroke="#d01010" stroke-width="1.5"/>
<circle cx="664.4" cy="651.6" r="4.3" fill="#d01010" fill-opacity="0" stroke="#d01010" stroke-width="1.5"/>
<circle cx="670.9" cy="651.6" r="4.3" fill="#d01010" fill-opacity="0" stroke="#d01010" stroke-width="1.5"/>
<circle cx="677.4" cy="651.6" r="4.3" fill="#d01010" fill-opacity="0" stroke="#d01010" stroke-width="1.5"/>
<circle cx="683.9" cy="651.6" r="4.3" fill="#d01010" fill-opacity="0" stroke="#d01010" stroke-width="1.5"/>
<circle cx="690.4" cy="651.6" r="4.3" fill="#d01010" fill-opacity="0" stroke="#d01010" stroke-width="1.5"/>
<circle cx="696.9" cy="651.6" r="4.3" fill="#d01010" fill-opacity="0" stroke="#d01010" stroke-width="1.5"/>
<circle cx="703.4" cy="651.6" r="4.3" fill="#d01010" fill-opacity="0" stroke="#d01010" stroke-width="1.5"/>
<circle cx="709.9" cy="651.6" r="4.3" fill="#d01010" fill-opacity="0" stroke="#d01010" stroke-width="1.5"/>
<circle cx="716.4" cy="651.6" r="4.3" fill="#d01010" fill-opacity="0" stroke="#d01010" stroke-width="1.5"/>
<circle cx="723.0" cy="651.6" r="4.3" fill="#d01010" fill-opacity="0" stroke="#d01010" stroke-width="1.5"/>
<circle cx="729.5" cy="651.6" r="4.3" fill="#d01010" fill-opacity="0" stroke="#d01010" stroke-width="1.5"/>
<circle cx="736.0" cy="651.6" r="4.3" fill="#d01010" fill-opacity="0" stroke="#d01010" stroke-width="1.5"/>
<circle cx="742.5" cy="651.6" r="4.3" fill="#d01010" fill-opacity="0" stroke="#d01010" stroke-width="1.5"/>
<circle cx="749.0" cy="651.6" r="4.3" fill="#d01010" fill-opacity="0" stroke="#d01010" stroke-width="1.5"/>
<circle cx="755.5" cy="651.6" r="4.3" fill="#d01010" fill-opacity="0" stroke="#d01010" stroke-width="1.5"/>
<circle cx="143.6" cy="707.3" r="4.3" fill="#d01010" fill-opacity="0" stroke="#d01010" stroke-width="1.5"/>
<circle cx="150.1" cy="673.1" r="4.3" fill="#d01010" fill-opacity="0" stroke="#d01010" stroke-width="1.5"/>
<circle cx="156.6" cy="661.8" r="4.3" fill="#d01010" fill-opacity="0" stroke="#d01010" stroke-width="1.5"/>
<circle cx="163.1" cy="668.4" r="4.3" fill="#d01010" fill-opacity="0" stroke="#d01010" stroke-width="1.5"/>
<circle cx="280.3" cy="644.4" r="4.3" fill="#d01010" fill-opacity="0" stroke="#d01010" stroke-width="1.5"/>
<circle cx="150.1" cy="651.6" r="4.3" fill="#8888ee" fill-opacity="0" stroke="#8888ee" stroke-width="1.5"/>
<circle cx="156.6" cy="651.6" r="4.3" fill="#8888ee" fill-opacity="0" stroke="#8888ee" stroke-width="1.5"/>
<circle cx="163.1" cy="651.6" r="4.3" fill="#8888ee" fill-opacity="0" stroke="#8888ee" stroke-width="1.5"/>
<circle cx="169.6" cy="651.6" r="4.3" fill="#6448d8" fill-opacity="0.1" stroke="#6448d8" stroke-width="1.5"/>
<circle cx="176.1" cy="651.6" r="4.3" fill="#6448d8" fill-opacity="0.1" stroke="#6448d8" stroke-width="1.5"/>
<circle cx="182.7" cy="651.6" r="4.3" fill="#6448d8" fill-opacity="0.1" stroke="#6448d8" stroke-width="1.5"/>
<circle cx="189.2" cy="651.6" r="4.3" fill="#6448d8" fill-opacity="0.1" stroke="#6448d8" stroke-width="1.5"/>
<circle cx="195.7" cy="651.6" r="4.3" fill="#6448d8" fill-opacity="0.1" stroke="#6448d8" stroke-width="1.5"/>
<circle cx="202.2" cy="651.6" r="4.3" fill="#6448d8" fill-opacity="0.1" stroke="#6448d8" stroke-width="1.5"/>
<circle cx="208.7" cy="651.6" r="4.3" fill="#6448d8" fill-opacity="0.1" stroke="#6448d8" stroke-width="1.5"/>
<circle cx="215.2" cy="651.6" r="4.3" fill="#6448d8" fill-opacity="0.1" stroke="#6448d8" stroke-width="1.5"/>
<circle cx="221.7" cy="651.6" r="4.3" fill="#6448d8" fill-opacity="0.1" stroke="#6448d8" stroke-width="1.5"/>
<circle cx="228.2" cy="651.6" r="4.3" fill="#6448d8" fill-opacity="0.1" stroke="#6448d8" stroke-width="1.5"/>
<circle cx="234.7" cy="651.6" r="4.3" fill="#6448d8" fill-opacity="0.1" stroke="#6448d8" stroke-width="1.5"/>
<circle cx="241.2" cy="651.6" r="4.3" fill="#6448d8" fill-opacity="0.1" stroke="#6448d8" stroke-width="1.5"/>
<circle cx="247.8" cy="651.6" r="4.3" fill="#6448d8" fill-opacity="0.1" stroke="#6448d8" stroke-width="1.5"/>
<circle cx="254.3" cy="651.6" r="4.3" fill="#6448d8" fill-opacity="0.1" stroke="#6448d8" stroke-width="1.5"/>
<circle cx="260.8" cy="651.6" r="4.3" fill="#6448d8" fill-opacity="0.1" stroke="#6448d8" stroke-width="1.5"/>
<circle cx="267.3" cy="651.6" r="4.3" fill="#6448d8" fill-opacity="0.1" stroke="#6448d8" stroke-width="1.5"/>
<circle cx="273.8" cy="651.6" r="4.3" fill="#6448d8" fill-opacity="0.1" stroke="#6448d8" stroke-width="1.5"/>
<circle cx="280.3" cy="651.6" r="4.3" fill="#6448d8" fill-opacity="0.1" stroke="#6448d8" stroke-width="1.5"/>
<circle cx="286.8" cy="651.6" r="4.3" fill="#6448d8" fill-opacity="0.1" stroke="#6448d8" stroke-width="1.5"/>
<circle cx="293.3" cy="651.6" r="4.3" fill="#6448d8" fill-opacity="0.1" stroke="#6448d8" stroke-width="1.5"/>
<circle cx="299.8" cy="651.6" r="4.3" fill="#6448d8" fill-opacity="0.1" stroke="#6448d8" stroke-width="1.5"/>
<circle cx="306.3" cy="651.6" r="4.3" fill="#6448d8" fill-opacity="0.1" stroke="#6448d8" stroke-width="1.5"/>
<circle cx="312.8" cy="651.6" r="4.3" fill="#6448d8" fill-opacity="0.1" stroke="#6448d8" stroke-width="1.5"/>
<circle cx="319.4" cy="651.6" r="4.3" fill="#6448d8" fill-opacity="0.1" stroke="#6448d8" stroke-width="1.5"/>
<circle cx="325.9" cy="651.6" r="4.3" fill="#6448d8" fill-opacity="0.1" stroke="#6448d8" stroke-width="1.5"/>
<circle cx="332.4" cy="651.6" r="4.3" fill="#6448d8" fill-opacity="0.1" stroke="#6448d8" stroke-width="1.5"/>
<circle cx="338.9" cy="651.6" r="4.3" fill="#6448d8" fill-opacity="0.1" stroke="#6448d8" stroke-width="1.5"/>
<circle cx="345.4" cy="651.6" r="4.3" fill="#6448d8" fill-opacity="0.1" stroke="#6448d8" stroke-width="1.5"/>
<circle cx="351.9" cy="651.6" r="4.3" fill="#6448d8" fill-opacity="0.1" stroke="#6448d8" stroke-width="1.5"/>
<circle cx="358.4" cy="651.6" r="4.3" fill="#6448d8" fill-opacity="0.1" stroke="#6448d8" stroke-width="1.5"/>
<circle cx="364.9" cy="651.6" r="4.3" fill="#6448d8" fill-opacity="0.1" stroke="#6448d8" stroke-width="1.5"/>
<circle cx="371.4" cy="651.6" r="4.3" fill="#6448d8" fill-opacity="0.1" stroke="#6448d8" stroke-width="1.5"/>
<circle cx="377.9" cy="651.6" r="4.3" fill="#6448d8" fill-opacity="0.1" stroke="#6448d8" stroke-width="1.5"/>
<circle cx="384.5" cy="651.6" r="4.3" fill="#6448d8" fill-opacity="0.1" stroke="#6448d8" stroke-width="1.5"/>
<circle cx="391.0" cy="651.6" r="4.3" fill="#6448d8" fill-opacity="0.1" stroke="#6448d8" stroke-width="1.5"/>
<circle cx="397.5" cy="651.6" r="4.3" fill="#6448d8" fill-opacity="0.1" stroke="#6448d8" stroke-width="1.5"/>
<circle cx="404.0" cy="651.6" r="4.3" fill="#6448d8" fill-opacity="0.1" stroke="#6448d8" stroke-width="1.5"/>
<circle cx="410.5" cy="651.6" r="4.3" fill="#6448d8" fill-opacity="0.1" stroke="#6448d8" stroke-width="1.5"/>
<circle cx="417.0" cy="651.6" r="4.3" fill="#6448d8" fill-opacity="0.1" stroke="#6448d8" stroke-width="1.5"/>
<circle cx="423.5" cy="651.6" r="4.3" fill="#6448d8" fill-opacity="0.1" stroke="#6448d8" stroke-width="1.5"/>
<circle cx="430.0" cy="651.6" r="4.3" fill="#6448d8" fill-opacity="0.1" stroke="#6448d8" stroke-width="1.5"/>
<circle cx="436.5" cy="651.6" r="4.3" fill="#6448d8" fill-opacity="0.1" stroke="#6448d8" stroke-width="1.5"/>
<circle cx="443.0" cy="651.6" r="4.3" fill="#6448d8" fill-opacity="0.1" stroke="#6448d8" stroke-width="1.5"/>
<circle cx="449.5" cy="651.6" r="4.3" fill="#6448d8" fill-opacity="0.1" stroke="#6448d8" stroke-width="1.5"/>
<circle cx="456.1" cy="651.6" r="4.3" fill="#6448d8" fill-opacity="0.1" stroke="#6448d8" stroke-width="1.5"/>
<circle cx="462.6" cy="651.6" r="4.3" fill="#6448d8" fill-opacity="0.1" stroke="#6448d8" stroke-width="1.5"/>
<circle cx="469.1" cy="651.6" r="4.3" fill="#6448d8" fill-opacity="0.1" stroke="#6448d8" stroke-width="1.5"/>
<circle cx="475.6" cy="651.6" r="4.3" fill="#6448d8" fill-opacity="0.1" stroke="#6448d8" stroke-width="1.5"/>
<circle cx="482.1" cy="651.6" r="4.3" fill="#6448d8" fill-opacity="0.1" stroke="#6448d8" stroke-width="1.5"/>
<circle cx="488.6" cy="651.6" r="4.3" fill="#6448d8" fill-opacity="0.1" stroke="#6448d8" stroke-width="1.5"/>
<circle cx="495.1" cy="651.6" r="4.3" fill="#6448d8" fill-opacity="0.1" stroke="#6448d8" stroke-width="1.5"/>
<circle cx="501.6" cy="651.6" r="4.3" fill="#6448d8" fill-opacity="0.1" stroke="#6448d8" stroke-width="1.5"/>
<circle cx="508.1" cy="651.6" r="4.3" fill="#6448d8" fill-opacity="0.1" stroke="#6448d8" stroke-width="1.5"/>
<circle cx="514.6" cy="651.6" r="4.3" fill="#6448d8" fill-opacity="0.1" stroke="#6448d8" stroke-width="1.5"/>
<circle cx="521.2" cy="651.6" r="4.3" fill="#6448d8" fill-opacity="0.1" stroke="#6448d8" stroke-width="1.5"/>
<circle cx="527.7" cy="651.6" r="4.3" fill="#6448d8" fill-opacity="0.1" stroke="#6448d8" stroke-width="1.5"/>
<circle cx="534.2" cy="651.6" r="4.3" fill="#6448d8" fill-opacity="0.1" stroke="#6448d8" stroke-width="1.5"/>
<circle cx="540.7" cy="651.6" r="4.3" fill="#6448d8" fill-opacity="0.1" stroke="#6448d8" stroke-width="1.5"/>
<circle cx="547.2" cy="651.6" r="4.3" fill="#6448d8" fill-opacity="0.1" stroke="#6448d8" stroke-width="1.5"/>
<circle cx="553.7" cy="651.6" r="4.3" fill="#6448d8" fill-opacity="0.1" stroke="#6448d8" stroke-width="1.5"/>
<circle cx="560.2" cy="651.6" r="4.3" fill="#6448d8" fill-opacity="0.1" stroke="#6448d8" stroke-width="1.5"/>
<circle cx="566.7" cy="651.6" r="4.3" fill="#6448d8" fill-opacity="0.1" stroke="#6448d8" stroke-width="1.5"/>
<circle cx="573.2" cy="651.6" r="4.3" fill="#6448d8" fill-opacity="0.1" stroke="#6448d8" stroke-width="1.5"/>
<circle cx="579.7" cy="651.6" r="4.3" fill="#6448d8" fill-opacity="0.1" stroke="#6448d8" stroke-width="1.5"/>
<circle cx="586.3" cy="651.6" r="4.3" fill="#6448d8" fill-opacity="0.1" stroke="#6448d8" stroke-width="1.5"/>
<circle cx="592.8" cy="651.6" r="4.3" fill="#6448d8" fill-opacity="0.1" stroke="#6448d8" stroke-width="1.5"/>
<circle cx="599.3" cy="651.6" r="4.3" fill="#6448d8" fill-opacity="0.1" stroke="#6448d8" stroke-width="1.5"/>
<circle cx="605.8" cy="651.6" r="4.3" fill="#6448d8" fill-opacity="0.1" stroke="#6448d8" stroke-width="1.5"/>
<circle cx="612.3" cy="651.6" r="4.3" fill="#6448d8" fill-opacity="0.1" stroke="#6448d8" stroke-width="1.5"/>
<circle cx="618.8" cy="651.6" r="4.3" fill="#6448d8" fill-opacity="0.1" stroke="#6448d8" stroke-width="1.5"/>
<circle cx="625.3" cy="651.6" r="4.3" fill="#6448d8" fill-opacity="0.1" stroke="#6448d8" stroke-width="1.5"/>
<circle cx="631.8" cy="651.6" r="4.3" fill="#6448d8" fill-opacity="0.1" stroke="#6448d8" stroke-width="1.5"/>
<circle cx="638.3" cy="651.6" r="4.3" fill="#6448d8" fill-opacity="0.1" stroke="#6448d8" stroke-width="1.5"/>
<circle cx="644.8" cy="651.6" r="4.3" fill="#6448d8" fill-opacity="0.1" stroke="#6448d8" stroke-width="1.5"/>
<circle cx="651.3" cy="651.6" r="4.3" fill="#6448d8" fill-opacity="0.1" stroke="#6448d8" stroke-width="1.5"/>
<circle cx="657.9" cy="651.6" r="4.3" fill="#6448d8" fill-opacity="0.1" stroke="#6448d8" stroke-width="1.5"/>
<circle cx="664.4" cy="651.6" r="4.3" fill="#6448d8" fill-opacity="0.1" stroke="#6448d8" stroke-width="1.5"/>
<circle cx="670.9" cy="651.6" r="4.3" fill="#6448d8" fill-opacity="0.1" stroke="#6448d8" stroke-width="1.5"/>
<circle cx="677.4" cy="651.6" r="4.3" fill="#6448d8" fill-opacity="0.1" stroke="#6448d8" stroke-width="1.5"/>
<circle cx="683.9" cy="651.6" r="4.3" fill="#6448d8" fill-opacity="0.1" stroke="#6448d8" stroke-width="1.5"/>
<circle cx="690.4" cy="651.6" r="4.3" fill="#6448d8" fill-opacity="0.1" stroke="#6448d8" stroke-width="1.5"/>
<circle cx="696.9" cy="651.6" r="4.3" fill="#6448d8" fill-opacity="0.1" stroke="#6448d8" stroke-width="1.5"/>
<circle cx="703.4" cy="651.6" r="4.3" fill="#6448d8" fill-opacity="0.1" stroke="#6448d8" stroke-width="1.5"/>
<circle cx="709.9" cy="651.6" r="4.3" fill="#6448d8" fill-opacity="0.1" stroke="#6448d8" stroke-width="1.5"/>
<circle cx="716.4" cy="651.6" r="4.3" fill="#6448d8" fill-opacity="0.1" stroke="#6448d8" stroke-width="1.5"/>
<circle cx="723.0" cy="651.6" r="4.3" fill="#6448d8" fill-opacity="0.1" stroke="#6448d8" stroke-width="1.5"/>
<circle cx="729.5" cy="651.6" r="4.3" fill="#6448d8" fill-opacity="0.1" stroke="#6448d8" stroke-width="1.5"/>
<circle cx="736.0" cy="651.6" r="4.3" fill="#6448d8" fill-opacity="0.1" stroke="#6448d8" stroke-width="1.5"/>
<circle cx="742.5" cy="651.6" r="4.3" fill="#6448d8" fill-opacity="0.1" stroke="#6448d8" stroke-width="1.5"/>
<circle cx="749.0" cy="651.6" r="4.3" fill="#6448d8" fill-opacity="0.1" stroke="#6448d8" stroke-width="1.5"/>
<circle cx="755.5" cy="651.6" r="4.3" fill="#6448d8" fill-opacity="0.1" stroke="#6448d8" stroke-width="1.5"/>
</g>
<rect x="143.6" y="622.3" width="611.9" height="269.2" fill="none" stroke="#000" stroke-width="3"/>
<line x1="138.2" y1="891.0" x2="143.6" y2="891.0" stroke="#000" stroke-width="2.6"/>
<text x="134.7" y="896.0" text-anchor="end" font-size="19.5" font-family="Liberation Sans, Arial, sans-serif" font-weight="bold">60</text>
<line x1="138.2" y1="771.3" x2="143.6" y2="771.3" stroke="#000" stroke-width="2.6"/>
<text x="134.7" y="776.3" text-anchor="end" font-size="19.5" font-family="Liberation Sans, Arial, sans-serif" font-weight="bold">80</text>
<line x1="138.2" y1="651.6" x2="143.6" y2="651.6" stroke="#000" stroke-width="2.6"/>
<text x="134.7" y="656.6" text-anchor="end" font-size="19.5" font-family="Liberation Sans, Arial, sans-serif" font-weight="bold">100</text>
<line x1="140.6" y1="831.1" x2="143.6" y2="831.1" stroke="#000" stroke-width="2.6"/>
<line x1="140.6" y1="711.5" x2="143.6" y2="711.5" stroke="#000" stroke-width="2.6"/>
<line x1="267.3" y1="891.5" x2="267.3" y2="896.5" stroke="#000" stroke-width="2.6"/>
<text x="267.3" y="913.4" text-anchor="middle" font-size="19" font-family="Liberation Sans, Arial, sans-serif" font-weight="bold">20</text>
<line x1="397.5" y1="891.5" x2="397.5" y2="896.5" stroke="#000" stroke-width="2.6"/>
<text x="397.5" y="913.4" text-anchor="middle" font-size="19" font-family="Liberation Sans, Arial, sans-serif" font-weight="bold">40</text>
<line x1="527.7" y1="891.5" x2="527.7" y2="896.5" stroke="#000" stroke-width="2.6"/>
<text x="527.7" y="913.4" text-anchor="middle" font-size="19" font-family="Liberation Sans, Arial, sans-serif" font-weight="bold">60</text>
<line x1="657.9" y1="891.5" x2="657.9" y2="896.5" stroke="#000" stroke-width="2.6"/>
<text x="657.9" y="913.4" text-anchor="middle" font-size="19" font-family="Liberation Sans, Arial, sans-serif" font-weight="bold">80</text>
<line x1="202.2" y1="891.5" x2="202.2" y2="894.5" stroke="#000" stroke-width="2.6"/>
<line x1="332.4" y1="891.5" x2="332.4" y2="894.5" stroke="#000" stroke-width="2.6"/>
<line x1="462.6" y1="891.5" x2="462.6" y2="894.5" stroke="#000" stroke-width="2.6"/>
<line x1="592.8" y1="891.5" x2="592.8" y2="894.5" stroke="#000" stroke-width="2.6"/>
<line x1="723.0" y1="891.5" x2="723.0" y2="894.5" stroke="#000" stroke-width="2.6"/>
<text x="449" y="948" text-anchor="middle" font-size="22.2" font-family="Liberation Sans, Arial, sans-serif" font-weight="bold">Cycle</text>
<text transform="translate(95.4,757) rotate(-90)" text-anchor="middle" font-size="22.4" font-family="Liberation Sans, Arial, sans-serif" font-weight="bold">Coulombic efficiency (%)</text>
<text x="20" y="632" font-size="36" font-family="Liberation Sans, Arial, sans-serif" font-weight="bold">(c)</text>
<circle cx="161.7" cy="817.0" r="4.5" fill="none" stroke="#707070" stroke-width="2"/>
<text x="181" y="822.5" font-size="19.1" font-family="Liberation Sans, Arial, sans-serif" font-weight="bold">Cu:SiO<tspan font-size="13" dy="5">2</tspan><tspan dy="-5"> = 1:0</tspan></text>
<circle cx="161.7" cy="845.2" r="4.5" fill="none" stroke="#d01010" stroke-width="2"/>
<text x="181" y="850.7" font-size="19.1" font-family="Liberation Sans, Arial, sans-serif" font-weight="bold">Cu:SiO<tspan font-size="13" dy="5">2</tspan><tspan dy="-5"> = 1:1</tspan></text>
<circle cx="161.7" cy="873.4" r="4.5" fill="none" stroke="#8080e8" stroke-width="2"/>
<text x="181" y="878.9" font-size="19.1" font-family="Liberation Sans, Arial, sans-serif" font-weight="bold">Cu:SiO<tspan font-size="13" dy="5">2</tspan><tspan dy="-5"> = 1:2</tspan></text>
</g>
<g id="inset">
<line x1="375.3" y1="715.5" x2="375.3" y2="850.5" stroke="#000" stroke-width="2"/>
<line x1="372.5" y1="834.6" x2="375.3" y2="834.6" stroke="#000" stroke-width="1.4"/>
<line x1="372.5" y1="817.2" x2="375.3" y2="817.2" stroke="#000" stroke-width="1.4"/>
<line x1="372.5" y1="799.9" x2="375.3" y2="799.9" stroke="#000" stroke-width="1.4"/>
<line x1="372.5" y1="782.5" x2="375.3" y2="782.5" stroke="#000" stroke-width="1.4"/>
<line x1="372.5" y1="765.1" x2="375.3" y2="765.1" stroke="#000" stroke-width="1.4"/>
<line x1="372.5" y1="747.8" x2="375.3" y2="747.8" stroke="#000" stroke-width="1.4"/>
<line x1="372.5" y1="730.4" x2="375.3" y2="730.4" stroke="#000" stroke-width="1.4"/>
<text x="370.5" y="821.8" text-anchor="end" font-size="12.5" font-family="Liberation Sans, Arial, sans-serif" font-weight="bold">-10</text>
<text x="370.5" y="787.0" text-anchor="end" font-size="12.5" font-family="Liberation Sans, Arial, sans-serif" font-weight="bold">0</text>
<text x="370.5" y="752.2" text-anchor="end" font-size="12.5" font-family="Liberation Sans, Arial, sans-serif" font-weight="bold">10</text>
<text transform="translate(339.4,777.5) rotate(-90)" text-anchor="middle" font-size="18" font-family="Liberation Sans, Arial, sans-serif" font-weight="bold">Potential (V<tspan font-size="11.5" dy="4">Li/Li+</tspan><tspan dy="-4">)</tspan></text>
<path d="M375.3 758.7 L375.9 758.6 L376.5 759.3 L377.1 758.7 L377.7 759.3 L378.3 800.6 L378.2 800.3 L378.7 800.8 L379.2 800.3 L379.7 800.7 L380.2 800.3 L380.7 800.3 L381.2 800.8 L381.8 801.2 L382.3 800.4 L382.8 800.5 L383.3 801.0 L383.8 801.4 L384.3 801.0 L384.8 800.8 L385.3 801.5 L385.8 800.4 L386.3 801.3 L386.8 800.7 L387.3 800.5 L387.8 800.5 L388.3 800.7 L388.8 801.3 L389.3 800.6 L389.9 801.1 L390.4 801.1 L390.9 800.8 L391.4 801.0 L391.9 800.5 L392.4 800.5 L392.9 800.6 L393.4 801.2 L394.0 759.1 L393.9 759.0 L394.4 759.3 L394.9 759.1 L395.4 759.0 L396.0 759.6 L396.5 759.4 L397.0 758.9 L397.5 759.3 L398.0 759.2 L398.5 759.7 L399.0 759.5 L399.5 758.9 L400.0 759.8 L400.5 758.7 L401.1 759.1 L401.6 759.5 L402.1 758.8 L402.6 759.2 L403.1 758.6 L403.6 759.4 L404.1 759.5 L404.6 759.3 L405.1 759.7 L405.6 759.0 L406.2 759.4 L406.7 759.3 L407.2 759.3 L407.7 759.1 L408.2 759.6 L408.8 801.3 L408.7 800.8 L409.2 801.0 L409.7 800.3 L410.2 801.1 L410.7 801.0 L411.2 801.4 L411.7 801.2 L412.3 800.6 L412.8 800.7 L413.3 801.1 L413.8 800.3 L414.3 800.8 L414.8 800.5 L415.3 800.4 L415.8 800.4 L416.3 801.2 L416.8 800.5 L417.3 800.6 L417.8 800.8 L418.3 801.4 L418.8 800.4 L419.3 800.9 L419.9 801.0 L420.4 801.4 L420.9 801.3 L421.4 801.4 L421.9 800.7 L422.4 800.9 L422.9 800.8 L423.4 801.5 L424.0 759.7 L423.9 758.8 L424.4 758.8 L424.9 758.9 L425.4 758.9 L425.9 759.2 L426.4 759.3 L426.9 758.9 L427.4 758.6 L427.9 759.1 L428.4 759.0 L428.9 759.3 L429.4 759.7 L429.9 759.4 L430.4 759.2 L431.0 759.3 L431.5 759.4 L432.0 758.7 L432.5 759.7 L433.0 759.5 L433.5 759.6 L434.0 759.6 L434.5 759.1 L435.0 759.1 L435.5 758.7 L436.0 759.4 L436.5 758.7 L437.0 758.7 L437.5 758.9 L438.1 800.4 L438.0 800.6 L438.5 800.2 L439.0 800.1 L439.5 800.3 L440.1 800.2 L440.6 800.5 L441.1 800.1 L441.6 801.1 L442.1 800.8 L442.6 800.2 L443.1 800.3 L443.6 800.4 L444.1 800.4 L444.6 800.1 L445.2 800.9 L445.7 801.1 L446.2 800.4 L446.7 800.4 L447.2 799.9 L447.7 799.9 L448.2 800.2 L448.7 800.1 L449.2 800.7 L449.7 799.9 L450.3 799.7 L450.8 800.8 L451.3 800.3 L451.8 799.8 L452.3 800.3 L452.9 756.1 L452.8 756.7 L453.3 757.3 L453.8 757.1 L454.3 756.9 L454.8 756.4 L455.3 756.5 L455.9 756.3 L456.4 757.0 L456.9 756.7 L457.4 757.0 L457.9 756.5 L458.4 756.4 L458.9 757.1 L459.4 757.3 L459.9 757.1 L460.4 757.1 L460.9 757.1 L461.4 757.0 L461.9 756.4 L462.4 756.7 L462.9 756.5 L463.5 756.1 L464.0 756.1 L464.5 756.4 L465.0 756.4 L465.5 756.9 L466.0 757.2 L466.5 756.6 L467.1 800.7 L467.0 800.9 L467.5 800.9 L468.0 800.3 L468.5 800.2 L469.0 800.3 L469.5 800.4 L470.0 800.5 L470.5 801.1 L471.0 801.5 L471.5 801.5 L472.0 801.2 L472.5 801.5 L473.0 801.8 L473.5 801.0 L474.1 801.8 L474.6 802.2 L475.1 802.1 L475.6 802.2 L476.1 801.9 L476.6 801.7 L477.1 802.5 L477.6 802.1 L478.1 802.7 L478.6 803.0 L479.1 802.4 L479.6 802.5 L480.1 803.3 L480.6 803.1 L481.1 802.5 L481.6 802.6 L482.2 756.3 L482.1 757.2 L482.6 757.1 L483.1 756.3 L483.6 757.1 L484.2 757.3 L484.7 756.9 L485.2 756.5 L485.7 756.8 L486.2 756.3 L486.7 756.1 L487.2 757.3 L487.7 756.9 L488.2 756.7 L488.7 757.2 L489.3 756.6 L489.8 757.1 L490.3 757.1 L490.8 756.4 L491.3 756.4 L491.8 756.5 L492.3 756.4 L492.8 756.8 L493.3 756.4 L493.8 756.6 L494.4 756.3 L494.9 757.2 L495.4 756.5 L495.9 756.6 L496.4 756.8 L497.0 806.0 L496.9 805.4 L497.4 806.1 L497.9 805.6 L498.4 805.7 L498.9 805.7 L499.4 805.1 L499.9 805.7 L500.4 805.4 L500.9 805.2 L501.4 806.2 L501.9 805.5 L502.4 805.9 L502.9 806.2 L503.4 806.1 L503.9 805.8 L504.5 806.1 L505.0 806.2 L505.5 806.5 L506.0 805.7 L506.5 806.3 L507.0 806.0 L507.5 806.0 L508.0 806.7 L508.5 806.4 L509.0 806.5 L509.5 806.8 L510.0 807.0 L510.5 806.5 L511.0 806.7 L511.5 806.6 L512.1 757.3 L512.0 757.5 L512.5 757.2 L513.0 757.3 L513.5 757.3 L514.0 757.8 L514.5 757.5 L515.0 757.8 L515.6 757.8 L516.1 757.0 L516.6 757.4 L517.1 757.8 L517.6 757.7 L518.1 756.9 L518.6 756.8 L519.1 757.2 L519.6 756.8 L520.1 757.0 L520.6 756.8 L521.1 757.5 L521.6 757.6 L522.2 757.8 L522.7 756.9 L523.2 757.6 L523.7 757.5 L524.2 756.9 L524.7 757.8 L525.2 757.9 L525.7 757.0 L526.3 800.0 L526.2 800.9 L526.7 802.5 L527.2 804.7 L527.7 806.0 L528.2 806.7 L528.7 808.6 L529.2 809.2 L529.7 809.0 L530.2 808.8 L530.7 809.0 L531.2 809.5 L531.7 808.7 L532.2 809.3 L532.7 809.2 L533.2 808.7 L533.8 809.1 L534.3 809.5 L534.8 809.4 L535.3 808.9 L535.8 810.0 L536.3 809.8 L536.8 810.0 L537.3 809.0 L537.8 809.2 L538.3 808.9 L538.8 809.9 L539.3 809.3 L539.8 809.1 L540.3 809.5 L540.8 810.1 L541.4 755.6 L541.3 754.9 L541.8 754.8 L542.3 755.7 L542.8 755.3 L543.3 755.5 L543.8 754.8 L544.3 754.7 L544.8 755.5 L545.3 755.2 L545.8 754.8 L546.3 755.8 L546.8 755.5 L547.3 755.7 L547.8 754.8 L548.3 755.8 L548.8 754.8 L549.3 755.8 L549.8 755.3 L550.3 755.2 L550.8 755.5 L551.3 755.9 L551.8 755.1 L552.3 755.0 L552.8 755.5 L553.3 755.1 L553.8 755.0 L554.3 755.1 L554.8 755.0 L555.3 755.1 L555.9 806.8 L555.8 806.8 L556.3 807.3 L556.8 806.8 L557.3 807.1 L557.8 806.7 L558.3 806.9 L558.8 806.5 L559.4 806.8 L559.9 806.6 L560.4 807.4 L560.9 807.2 L561.4 806.8 L561.9 807.2 L562.4 807.8 L562.9 806.8 L563.4 807.6 L563.9 807.2 L564.4 807.3 L564.9 807.7 L565.4 807.2 L565.9 807.4 L566.4 807.6 L567.0 808.0 L567.5 807.2 L568.0 807.8 L568.5 807.7 L569.0 807.6 L569.5 807.4 L570.0 807.3 L570.5 807.0 L571.1 753.1 L571.0 753.0 L571.5 753.8 L572.0 753.3 L572.5 753.2 L573.0 753.1 L573.5 754.0 L574.0 754.1 L574.6 753.8 L575.1 753.4 L575.6 753.4 L576.1 753.4 L576.6 753.7 L577.1 753.3 L577.6 753.7 L578.1 753.5 L578.6 754.3 L579.1 754.4 L579.6 753.9 L580.1 753.5 L580.6 754.4 L581.2 753.6 L581.7 753.7 L582.2 753.3 L582.7 753.8 L583.2 753.9 L583.7 754.0 L584.2 753.6 L584.7 754.0 L585.3 808.9 L585.2 809.2 L585.7 809.1 L586.2 809.5 L586.7 809.1 L587.2 809.1 L587.7 809.4 L588.2 809.4 L588.7 809.8 L589.2 809.8 L589.7 810.1 L590.2 810.0 L590.7 810.1 L591.2 810.3 L591.7 809.8 L592.2 809.7 L592.8 810.6 L593.3 809.6 L593.8 810.3 L594.3 810.2 L594.8 809.6 L595.3 810.5 L595.8 810.6 L596.3 810.3 L596.8 810.5 L597.3 810.6 L597.8 809.8 L598.3 810.3 L598.8 810.3 L599.3 810.8 L599.8 810.8 L600.4 754.4 L600.3 754.1 L600.8 754.5 L601.3 754.3 L601.8 754.3 L602.4 753.8 L602.9 753.5 L603.4 753.7 L603.9 754.0 L604.4 753.7 L604.9 754.6 L605.4 754.3 L605.9 754.4 L606.4 754.4 L606.9 754.5 L607.5 754.2 L608.0 753.7 L608.5 754.7 L609.0 754.6 L609.5 754.3 L610.0 754.4 L610.5 754.6 L611.0 753.9 L611.5 754.7 L612.0 754.1 L612.6 753.9 L613.1 754.2 L613.6 754.7 L614.1 754.1 L614.6 754.8 L615.2 810.4 L615.1 809.8 L615.6 809.7 L616.1 809.8 L616.6 810.1 L617.1 810.2 L617.6 810.1 L618.1 810.1 L618.6 809.5 L619.1 809.6 L619.6 809.7 L620.1 810.3 L620.6 809.8 L621.1 810.1 L621.6 809.5 L622.2 809.6 L622.7 809.8 L623.2 810.3 L623.7 810.4 L624.2 810.4 L624.7 809.9 L625.2 810.2 L625.7 810.2 L626.2 810.2 L626.7 809.8 L627.2 810.8 L627.7 810.0 L628.2 810.9 L628.7 810.9 L629.2 809.8 L629.7 810.4 L630.3 755.4 L630.2 755.6 L630.7 755.0 L631.2 754.8 L631.7 754.7 L632.2 755.6 L632.7 754.7 L633.2 755.2 L633.8 754.7 L634.3 755.2 L634.8 755.7 L635.3 754.7 L635.8 755.6 L636.3 755.2 L636.8 755.7 L637.3 755.5 L637.8 754.9 L638.3 755.7 L638.8 755.2 L639.3 754.7 L639.8 754.7 L640.4 755.3 L640.9 755.3 L641.4 755.1 L641.9 754.9 L642.4 755.2 L642.9 755.2 L643.4 755.8 L643.9 754.8 L644.5 802.3 L644.4 802.4 L644.9 801.6 L645.4 802.6 L645.9 802.4 L646.4 802.6 L646.9 801.9 L647.4 802.0 L647.9 802.1 L648.4 802.8 L648.9 802.4 L649.4 802.1 L649.9 802.2 L650.4 802.1 L650.9 801.8 L651.5 801.9 L652.0 802.8 L652.5 802.2 L653.0 803.0 L653.5 802.2 L654.0 802.3 L654.5 802.6 L655.0 802.2 L655.5 802.5 L656.0 803.2 L656.5 803.1 L657.0 803.1 L657.5 802.9 L658.0 803.2 L658.5 803.3 L659.0 802.9 L659.6 757.0 L659.5 756.2 L660.0 757.0 L660.5 756.7 L661.0 757.1 L661.5 757.0 L662.0 756.6 L662.5 756.3 L663.1 757.4 L663.6 756.4 L664.1 756.8 L664.6 756.7 L665.1 756.7 L665.6 757.2 L666.1 757.5 L666.6 756.7 L667.1 757.2 L667.6 756.8 L668.1 757.1 L668.6 756.9 L669.1 756.7 L669.7 756.7 L670.2 756.7 L670.7 757.6 L671.2 757.1 L671.7 756.8 L672.2 757.7 L672.7 757.8 L673.2 757.1 L673.8 805.1 L673.7 805.2 L674.2 805.2 L674.7 805.7 L675.2 805.5 L675.8 805.8 L676.3 805.9 L676.8 806.4 L677.3 806.9 L677.8 806.8 L678.3 806.5 L678.8 806.6 L679.3 806.9 L679.8 806.8 L680.3 806.9 L680.9 806.7 L681.4 807.1 L681.9 808.0 L682.4 807.1 L682.9 807.7 L683.4 807.9 L683.9 808.3 L684.4 807.7 L684.9 807.8 L685.4 807.9 L686.0 808.2 L686.5 808.4 L687.0 809.1 L687.5 809.1 L688.0 809.2 L688.6 756.8 L688.5 756.9 L689.0 757.7 L689.5 757.9 L690.0 757.4 L690.6 757.6 L691.1 756.9 L691.6 757.4 L692.1 758.0 L692.6 757.9 L693.1 758.0 L693.6 758.1 L694.1 757.3 L694.6 757.1 L695.1 757.2 L695.7 757.6 L696.2 757.8 L696.7 758.2 L697.2 757.9 L697.7 757.8 L698.2 758.0 L698.7 757.6 L699.2 757.8 L699.7 757.2 L700.2 758.1 L700.8 757.4 L701.3 758.3 L701.8 757.9 L702.3 757.6 L702.8 757.4 L703.4 797.3 L703.3 797.8 L703.8 797.8 L704.3 797.1 L704.8 797.1 L705.3 797.6 L705.8 809.7 L706.3 809.5 L706.8 809.3 L707.3 809.8 L707.8 809.1 L708.3 809.5 L708.8 809.8 L709.3 810.4 L709.8 810.0 L710.3 810.4 L710.9 809.9 L711.4 809.6 L711.9 809.7 L712.4 810.6 L712.9 810.3 L713.4 809.9 L713.9 809.6 L714.4 810.2 L714.9 810.4 L715.4 810.1 L715.9 810.0 L716.4 810.5 L716.9 810.8 L717.4 810.0 L717.9 809.8 L718.5 757.4 L718.4 757.5 L718.9 757.8 L719.4 757.3 L719.9 758.0 L720.4 758.0 L720.9 757.7 L721.4 757.3 L721.9 758.3 L722.4 757.5 L722.9 758.1 L723.4 757.4 L723.9 757.4 L724.4 758.1 L725.0 757.6 L725.5 758.4 L726.0 757.8 L726.5 757.5 L727.0 757.5 L727.5 757.8 L728.0 758.1 L728.5 758.4 L729.0 757.5 L729.5 757.8 L730.0 757.6 L730.5 758.5 L731.0 757.5 L731.5 757.4 L732.0 757.5 L732.6 799.1 L732.5 799.7 L733.0 799.7 L733.5 799.5 L734.0 799.9 L734.5 799.8 L735.0 799.1 L735.5 799.0 L736.0 799.9 L736.5 799.7 L737.0 798.8 L737.5 799.6 L738.0 799.3 L738.5 799.3 L739.0 799.3 L739.5 799.1 L740.0 798.9 L740.0 801.2" fill="none" stroke="#1c1cbc" stroke-width="1.25" stroke-linejoin="round"/>
<line x1="480.3" y1="807.5" x2="480.3" y2="839.8" stroke="#000" stroke-width="2.7" stroke-dasharray="2.7 2.3"/>
<line x1="511.7" y1="807.5" x2="511.7" y2="839.8" stroke="#000" stroke-width="2.7" stroke-dasharray="2.7 2.3"/>
<line x1="456.5" y1="836" x2="472" y2="836" stroke="#000" stroke-width="2.2"/><path d="M478.6 836 L469.5 831.3 L469.5 840.7 Z" fill="#000"/>
<line x1="521" y1="836" x2="536.7" y2="836" stroke="#000" stroke-width="2.2"/><path d="M514.2 836 L523.3 831.3 L523.3 840.7 Z" fill="#000"/>
<text x="543.5" y="845.5" font-size="23.5" font-family="Liberation Sans, Arial, sans-serif" font-weight="bold">8 h</text>
<text x="415.5" y="743.5" font-size="24.6" font-family="Liberation Sans, Arial, sans-serif" font-weight="bold">40 mAh cm<tspan font-size="16.5" dy="-8" font-weight="normal">-2</tspan><tspan dy="8"> (10 mA cm</tspan><tspan font-size="16.5" dy="-8" font-weight="normal">-2</tspan><tspan dy="8">)</tspan></text>
</g>
</svg>
<div class="cap">
<div class="ln"><b>Figure 1</b> (a) Changes in the electrode weight as a function of the porosity of Cu,</div>
<div class="ln">(b) the strategy to control the structural characteristics of porous Cu electrode,</div>
<div class="ln">and (c) deposition/stripping behavior of lithium metal according to the porosity</div>
<div class="ln">of Cu at a current density of 10 mA cm<sup>-2</sup> (the inset voltage profile is for the Cu</div>
<div class="ln last">electrode with Cu:SiO<sub>2</sub> weight ratio of 1:2).</div>
</div>
</body></html>
